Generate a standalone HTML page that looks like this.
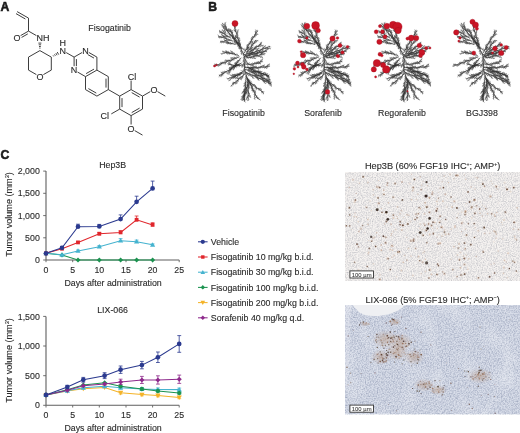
<!DOCTYPE html>
<html><head><meta charset="utf-8"><title>Fisogatinib figure</title>
<style>
html,body{margin:0;padding:0;background:#fff;width:520px;height:433px;overflow:hidden;}
svg{display:block;}
text{font-family:"Liberation Sans",Arial,Helvetica,sans-serif;stroke:#2b2b2b;stroke-width:0.12px;}
</style></head><body>
<svg width="520" height="433" viewBox="0 0 520 433">
<defs>
<clipPath id="clipA"><rect x="345" y="172" width="175" height="109"/></clipPath>
<clipPath id="clipB"><rect x="345" y="305" width="175" height="109.6"/></clipPath>
<radialGradient id="brg"><stop offset="0" stop-color="#b49077" stop-opacity="0.5"/><stop offset="1" stop-color="#b08a70" stop-opacity="0"/></radialGradient>
<filter id="soft" x="-5%" y="-5%" width="110%" height="110%"><feGaussianBlur stdDeviation="0.35"/></filter>
<filter id="motA" x="0" y="0" width="100%" height="100%" color-interpolation-filters="sRGB">
<feTurbulence type="fractalNoise" baseFrequency="0.8" numOctaves="2" seed="4"/>
<feColorMatrix type="matrix" values="0 0 0 0 0.62 0 0 0 0 0.63 0 0 0 0 0.67 1.15 0 0 0 -0.44"/>
<feGaussianBlur stdDeviation="0.4"/>
</filter>
<filter id="motB" x="0" y="0" width="100%" height="100%" color-interpolation-filters="sRGB">
<feTurbulence type="fractalNoise" baseFrequency="0.75" numOctaves="2" seed="9"/>
<feColorMatrix type="matrix" values="0 0 0 0 0.56 0 0 0 0 0.6 0 0 0 0 0.7 1.5 0 0 0 -0.55"/>
<feGaussianBlur stdDeviation="0.4"/>
</filter>
<filter id="motC" x="0" y="0" width="100%" height="100%" color-interpolation-filters="sRGB">
<feTurbulence type="fractalNoise" baseFrequency="0.05 0.03" numOctaves="2" seed="5"/>
<feColorMatrix type="matrix" values="0 0 0 0 1 0 0 0 0 1 0 0 0 0 1 0.7 0 0 0 -0.33"/>
</filter>
<g id="kt" fill="none" stroke="#222" stroke-linecap="round"><path d="M-23.50 -35.30L-22.45 -34.16L-20.98 -32.56L-19.25 -30.68L-17.42 -28.67L-15.65 -26.69L-14.10 -24.90L-12.75 -23.29L-11.46 -21.72L-10.24 -20.19L-9.07 -18.67L-7.96 -17.14L-6.90 -15.60L-5.88 -14.00L-4.89 -12.36L-3.96 -10.71L-3.10 -9.10L-2.34 -7.58L-1.70 -6.20L-1.19 -4.99L-0.79 -3.94L-0.49 -2.97L-0.27 -2.03L-0.11 -1.06L0.00 0.00L0.00 1.14L-0.12 2.31L-0.32 3.52L-0.50 4.75L-0.62 6.01L-0.60 7.30L-0.42 8.63L-0.13 9.99L0.23 11.39L0.62 12.80L1.00 14.21L1.35 15.60L1.68 16.89L2.03 18.06L2.37 19.23L2.69 20.52L2.96 22.04L3.15 23.90L3.25 26.38L3.28 29.43L3.26 32.72L3.22 35.89L3.17 38.60L3.15 40.50M-14.10 -21.80L-14.75 -22.20L-15.64 -22.76L-16.70 -23.43L-17.84 -24.14L-18.97 -24.85L-20.00 -25.50L-21.02 -26.15L-22.10 -26.84L-23.17 -27.53L-24.16 -28.17L-24.99 -28.71L-25.60 -29.10M-12.00 -18.70L-12.75 -19.01L-13.79 -19.44L-15.03 -19.95L-16.36 -20.49L-17.72 -21.02L-19.00 -21.50L-20.32 -21.95L-21.77 -22.42L-23.24 -22.88L-24.61 -23.29L-25.77 -23.64L-26.60 -23.90M-10.00 -15.60L-10.76 -15.81L-11.80 -16.12L-13.03 -16.47L-14.37 -16.85L-15.72 -17.20L-17.00 -17.50L-18.31 -17.75L-19.74 -18.00L-21.19 -18.22L-22.54 -18.41L-23.68 -18.58L-24.50 -18.70M-17.50 -29.00L-17.73 -29.57L-18.07 -30.37L-18.47 -31.31L-18.87 -32.30L-19.23 -33.22L-19.50 -34.00L-19.68 -34.65L-19.80 -35.26L-19.88 -35.81L-19.93 -36.30L-19.96 -36.70L-20.00 -37.00M-3.70 -11.40L-4.12 -12.65L-4.70 -14.38L-5.38 -16.43L-6.11 -18.65L-6.84 -20.89L-7.50 -23.00L-8.14 -25.15L-8.82 -27.50L-9.49 -29.88L-10.10 -32.09L-10.62 -33.95L-11.00 -35.30M-5.00 -13.00L-5.68 -13.98L-6.63 -15.33L-7.75 -16.94L-8.93 -18.67L-10.05 -20.40L-11.00 -22.00L-11.83 -23.60L-12.63 -25.33L-13.38 -27.06L-14.04 -28.67L-14.59 -30.02L-15.00 -31.00M-0.60 -7.30L0.04 -8.46L0.91 -10.06L1.96 -11.96L3.10 -14.01L4.27 -16.07L5.40 -18.00L6.60 -19.96L7.95 -22.08L9.33 -24.22L10.63 -26.21L11.72 -27.89L12.51 -29.10M0.36 -5.20L0.91 -5.93L1.66 -6.93L2.55 -8.11L3.51 -9.41L4.49 -10.73L5.40 -12.00L6.33 -13.33L7.35 -14.81L8.37 -16.32L9.32 -17.74L10.13 -18.94L10.71 -19.80M1.35 -4.20L2.56 -4.73L4.24 -5.46L6.22 -6.32L8.37 -7.24L10.55 -8.16L12.60 -9.00L14.70 -9.82L17.01 -10.69L19.33 -11.55L21.50 -12.34L23.34 -13.01L24.66 -13.50M1.35 -2.10L2.38 -2.30L3.81 -2.58L5.50 -2.91L7.32 -3.27L9.13 -3.64L10.80 -4.00L12.45 -4.37L14.22 -4.79L15.98 -5.22L17.61 -5.62L18.98 -5.96L19.98 -6.20M-5.80 -3.10L-7.12 -2.60L-8.94 -1.91L-11.10 -1.09L-13.44 -0.21L-15.79 0.67L-18.00 1.50L-20.25 2.33L-22.70 3.23L-25.16 4.14L-27.46 4.98L-29.40 5.69L-30.80 6.20M-6.50 -4.50L-7.44 -4.79L-8.74 -5.19L-10.28 -5.67L-11.93 -6.16L-13.54 -6.62L-15.00 -7.00L-16.39 -7.30L-17.85 -7.57L-19.28 -7.81L-20.59 -8.01L-21.70 -8.17L-22.50 -8.30M-3.70 3.10L-4.81 3.73L-6.32 4.60L-8.12 5.64L-10.09 6.76L-12.09 7.91L-14.00 9.00L-15.99 10.14L-18.20 11.39L-20.44 12.67L-22.54 13.86L-24.32 14.87L-25.60 15.60M-2.00 5.00L-2.88 5.08L-4.11 5.20L-5.56 5.34L-7.11 5.46L-8.63 5.53L-10.00 5.50L-11.31 5.35L-12.67 5.09L-14.00 4.78L-15.22 4.46L-16.25 4.19L-17.00 4.00M0.00 7.30L1.38 7.34L3.29 7.41L5.55 7.48L7.97 7.54L10.39 7.55L12.60 7.50L14.78 7.36L17.11 7.13L19.42 6.86L21.55 6.59L23.35 6.36L24.66 6.20M0.36 9.40L1.59 9.67L3.27 10.04L5.28 10.48L7.45 10.96L9.64 11.48L11.70 12.00L13.81 12.58L16.11 13.26L18.44 13.96L20.61 14.63L22.44 15.20L23.76 15.60M1.35 12.50L2.67 13.09L4.48 13.91L6.63 14.88L8.96 15.93L11.30 17.00L13.50 18.00L15.73 19.03L18.16 20.16L20.60 21.29L22.88 22.36L24.80 23.25L26.19 23.90M2.25 17.70L2.78 18.82L3.52 20.36L4.39 22.19L5.34 24.17L6.30 26.15L7.20 28.00L8.13 29.86L9.14 31.87L10.16 33.89L11.12 35.77L11.93 37.36L12.51 38.50M0.36 13.50L-0.44 14.21L-1.56 15.20L-2.88 16.38L-4.29 17.63L-5.70 18.87L-7.00 20.00L-8.28 21.10L-9.65 22.26L-11.01 23.41L-12.27 24.46L-13.33 25.35L-14.10 26.00M-0.60 10.40L-1.18 10.79L-1.98 11.33L-2.92 11.97L-3.96 12.66L-5.00 13.35L-6.00 14.00L-7.03 14.65L-8.18 15.36L-9.34 16.07L-10.42 16.74L-11.34 17.30L-12.00 17.70M3.15 23.90L2.86 24.78L2.47 25.99L2.00 27.42L1.48 28.97L0.96 30.53L0.45 32.00L-0.09 33.49L-0.68 35.12L-1.29 36.76L-1.87 38.28L-2.35 39.57L-2.70 40.50M2.25 20.00L3.20 20.78L4.52 21.89L6.08 23.19L7.73 24.56L9.35 25.87L10.80 27.00L12.16 28.01L13.57 29.00L14.93 29.94L16.18 30.78L17.23 31.48L18.00 32.00M0.00 -4.00L0.76 -4.65L1.80 -5.56L3.04 -6.62L4.40 -7.78L5.81 -8.93L7.20 -10.00L8.70 -11.07L10.40 -12.22L12.15 -13.38L13.80 -14.44L15.20 -15.35L16.20 -16.00M0.45 -3.00L1.33 -3.33L2.52 -3.78L3.94 -4.31L5.53 -4.89L7.24 -5.47L9.00 -6.00L11.01 -6.53L13.37 -7.11L15.83 -7.69L18.18 -8.22L20.18 -8.67L21.60 -9.00M0.45 4.00L1.39 4.03L2.68 4.09L4.22 4.16L5.87 4.19L7.50 4.14L9.00 4.00L10.47 3.70L12.03 3.26L13.58 2.75L15.02 2.24L16.22 1.80L17.10 1.50M2.07 7.30L3.33 7.81L5.07 8.52L7.14 9.36L9.35 10.27L11.53 11.17L13.50 12.00L15.41 12.83L17.41 13.71L19.39 14.59L21.21 15.41L22.74 16.10L23.85 16.60M3.15 10.70L4.37 11.27L6.05 12.04L8.05 12.96L10.21 13.96L12.37 15.00L14.40 16.00L16.45 17.07L18.67 18.26L20.91 19.48L22.99 20.63L24.74 21.60L26.01 22.30M1.08 18.80L0.96 20.03L0.80 21.75L0.62 23.78L0.41 25.94L0.20 28.07L0.00 30.00L-0.21 31.85L-0.44 33.79L-0.67 35.70L-0.88 37.45L-1.07 38.93L-1.20 40.00M-4.00 -2.00L-4.53 -1.35L-5.26 -0.44L-6.12 0.62L-7.07 1.78L-8.05 2.93L-9.00 4.00L-10.01 5.07L-11.15 6.22L-12.31 7.38L-13.41 8.44L-14.34 9.35L-15.00 10.00M-2.30 13.00L-3.14 13.33L-4.31 13.79L-5.69 14.33L-7.18 14.90L-8.65 15.48L-10.00 16.00L-11.32 16.51L-12.73 17.05L-14.13 17.59L-15.42 18.08L-16.51 18.50L-17.30 18.80" stroke-width="0.62"/><path d="M-21.47 -33.09L-19.42 -26.96M-18.93 -30.33L-15.76 -29.05M-16.29 -27.40L-14.69 -24.22M-13.93 -24.70L-9.23 -21.31M-11.24 -21.45L-9.70 -15.80M-9.06 -18.65L-4.27 -15.52M-7.02 -15.78L-5.61 -11.16M-5.52 -13.40L-0.31 -9.87M-3.81 -10.43L-3.49 -6.10M-1.95 -6.74L2.76 -2.55M-0.70 -3.64L-1.55 1.47M-0.11 -1.07L3.13 4.47M-0.04 1.54L-2.98 6.86M-0.46 4.44L0.12 7.69M-0.48 8.16L-1.31 14.46M0.28 11.58L4.07 15.75M1.21 15.02L0.97 18.93M1.99 17.93L4.50 20.80M2.87 21.54L2.39 26.21M3.20 24.98L4.34 28.04M3.27 28.22L1.33 33.06M3.27 31.43L5.34 37.37M3.22 35.42L1.26 39.47M-16.64 -23.39L-22.24 -23.94M-19.53 -25.20L-22.54 -30.35M-22.09 -26.84L-25.48 -27.88M-14.77 -19.85L-20.29 -19.72M-18.69 -21.39L-23.35 -25.46M-22.85 -22.75L-26.22 -22.58M-12.88 -16.43L-18.39 -16.49M-16.43 -17.37L-20.04 -19.83M-20.71 -18.15L-24.15 -17.68M-18.65 -31.77L-22.67 -36.76M-4.65 -14.25L-8.11 -18.69M-5.82 -17.76L-5.95 -22.42M-6.81 -20.79L-9.60 -24.44M-7.90 -24.34L-6.98 -30.20M-8.95 -27.96L-10.97 -30.31M-10.00 -31.72L-9.84 -37.63M-6.72 -15.46L-9.92 -18.24M-8.84 -18.55L-9.64 -24.23M-10.30 -20.83L-12.81 -22.54M-11.81 -23.58L-13.15 -29.54M-13.40 -27.12L-16.58 -30.89M0.84 -9.93L3.90 -12.85M2.12 -12.26L2.58 -15.57M4.06 -15.70L7.01 -18.72M6.25 -19.39L7.14 -22.85M8.36 -22.72L12.55 -25.90M10.22 -25.58L11.03 -29.63M2.16 -7.60L3.38 -12.70M4.41 -10.63L8.24 -12.73M6.48 -13.55L7.34 -18.26M8.37 -16.32L12.77 -19.52M4.10 -5.40L8.29 -9.87M7.30 -6.78L12.18 -6.98M9.74 -7.82L13.52 -11.66M12.87 -9.10L17.81 -9.22M16.28 -10.41L20.44 -14.37M19.89 -11.76L25.27 -11.54M4.29 -2.68L10.47 -1.66M8.25 -3.46L12.78 -6.14M11.86 -4.24L17.57 -2.72M14.46 -4.85L18.99 -8.55M-8.61 -2.04L-14.57 -2.05M-11.66 -0.88L-16.01 2.52M-15.36 0.51L-19.90 0.38M-18.05 1.52L-20.33 3.87M-21.04 2.62L-24.44 2.80M-23.52 3.54L-26.52 6.24M-26.91 4.78L-30.31 4.44M-9.37 -5.39L-14.19 -8.87M-12.75 -6.40L-18.25 -6.42M-15.58 -7.13L-19.02 -8.92M-18.32 -7.65L-23.59 -6.05M-6.30 4.59L-11.20 5.87M-9.16 6.23L-11.83 9.58M-11.92 7.81L-15.79 8.58M-14.74 9.42L-17.55 13.34M-18.55 11.59L-23.65 12.66M-21.26 13.13L-24.07 16.31M-4.99 5.29L-10.32 3.54M-9.19 5.52L-12.23 6.54M-13.38 4.93L-16.20 3.12M3.00 7.40L6.11 8.78M6.02 7.49L11.21 6.28M10.33 7.55L13.87 8.94M13.91 7.41L19.21 5.32M17.78 7.05L22.11 7.92M20.81 6.69L24.35 4.38M3.29 10.04L8.34 8.67M6.36 10.72L9.07 12.92M10.34 11.66L14.35 11.56M12.88 12.33L16.97 16.19M16.71 13.44L20.70 12.81M20.62 14.63L24.10 17.13M4.08 13.73L8.46 18.27M7.95 15.48L13.92 15.72M10.47 16.62L14.21 20.18M14.21 18.33L19.79 18.28M17.29 19.75L20.32 23.36M19.69 20.87L24.39 20.62M22.89 22.36L26.37 25.73M3.54 20.41L4.23 25.36M5.31 24.12L7.83 26.71M6.84 27.27L7.55 31.05M8.25 30.12L10.72 31.98M9.75 33.08L9.72 39.13M11.40 36.32L15.00 40.02M-1.88 15.49L-3.86 19.46M-4.12 17.48L-7.46 18.66M-7.00 20.00L-9.05 24.10M-9.38 22.04L-12.43 23.52M-3.09 12.08L-5.18 15.43M-6.30 14.19L-12.34 14.67M-8.87 15.79L-11.14 18.33M2.22 26.75L-1.37 31.95M1.04 30.30L1.39 33.90M0.18 32.76L-2.90 36.78M-0.74 35.27L-0.28 41.65M4.55 21.92L6.15 24.81M7.30 24.20L10.53 25.46M10.26 26.58L11.67 29.26M12.94 28.56L16.58 29.27M16.18 30.78L18.59 33.68M2.27 -5.96L8.27 -7.50M4.73 -8.05L6.81 -11.65M6.82 -9.71L11.45 -11.68M9.38 -11.53L11.47 -14.18M11.97 -13.26L18.30 -14.56M14.33 -14.79L16.43 -17.91M3.26 -4.06L7.72 -7.90M7.25 -5.47L12.70 -4.83M11.12 -6.56L15.29 -8.76M14.81 -7.45L18.16 -6.73M18.91 -8.39L22.93 -10.92M3.45 4.12L8.25 5.72M7.26 4.15L13.22 1.89M11.52 3.40L15.60 3.47M14.34 2.48L17.50 -0.83M4.85 8.43L10.17 8.99M7.37 9.46L11.55 13.60M11.12 11.00L16.96 11.81M14.71 12.52L17.79 15.67M18.21 14.07L22.81 14.08M21.74 15.65L25.20 20.07M5.87 11.96L10.41 11.75M9.64 13.70L12.97 18.09M12.75 15.18L19.00 15.92M15.59 16.62L19.78 21.38M19.21 18.55L24.57 19.67M21.98 20.07L25.20 23.53M0.80 21.79L-0.99 26.30M0.44 25.66L1.82 29.00M0.13 28.71L-2.76 33.09M-0.18 31.61L0.46 35.62M-0.53 34.60L-3.69 39.48M-0.90 37.58L-0.49 40.60M-5.89 0.33L-9.37 2.65M-7.91 2.77L-9.88 7.01M-10.79 5.86L-15.79 7.92M-13.57 8.60L-16.14 13.99M-5.09 14.09L-9.39 18.76M-8.62 15.47L-14.42 15.37M-11.84 16.71L-15.98 20.77" stroke-width="0.44"/><path d="M-22.98 -34.74L-22.62 -32.56M-22.26 -33.94L-20.49 -33.74M-21.53 -33.16L-21.47 -31.86M-20.59 -32.14L-19.28 -31.76M-19.65 -31.12L-19.75 -29.72M-18.83 -30.23L-16.28 -30.00M-17.81 -29.10L-17.62 -26.52M-17.11 -28.32L-15.50 -28.29M-16.35 -27.47L-16.08 -25.87M-15.20 -26.18L-13.29 -25.64M-14.18 -24.99L-14.06 -23.06M-13.49 -24.17L-12.12 -23.70M-12.46 -22.94L-12.44 -21.35M-11.49 -21.76L-9.97 -21.45M-10.43 -20.42L-10.56 -18.97M-9.50 -19.23L-7.26 -18.75M-8.51 -17.90L-8.50 -15.50M-7.86 -17.00L-5.85 -16.38M-7.21 -16.05L-7.32 -14.90M-6.34 -14.72L-4.54 -14.33M-5.40 -13.21L-5.58 -11.24M-4.62 -11.89L-3.06 -11.35M-3.77 -10.36L-4.36 -8.81M-3.03 -8.95L-1.40 -7.93M-2.32 -7.54L-3.19 -5.68M-1.79 -6.40L-0.14 -5.54M-1.38 -5.45L-1.73 -4.26M-0.97 -4.41L0.57 -3.20M-0.60 -3.34L-1.06 -1.93M-0.20 -1.62L0.81 -0.45M-0.01 -0.14L-1.32 1.32M-0.05 1.62L0.67 2.91M-0.22 2.94L-1.97 4.08M-0.40 4.07L0.12 5.20M-0.55 5.28L-1.71 6.44M-0.61 6.52L0.13 7.75M-0.53 7.85L-1.64 9.53M-0.25 9.44L1.04 10.44M0.13 11.00L-0.42 12.84M0.57 12.63L2.16 13.44M0.93 13.94L0.54 14.89M1.32 15.46L2.01 16.15M1.61 16.62L1.20 17.81M1.90 17.64L2.67 18.36M2.22 18.70L1.89 19.55M2.66 20.42L3.52 20.99M2.88 21.63L2.32 22.73M3.03 22.74L4.52 23.87M3.16 24.16L2.59 24.90M3.21 25.26L3.91 26.12M3.26 26.99L2.80 27.72M3.28 28.84L3.91 29.57M3.28 30.32L2.60 31.46M3.27 32.19L4.33 33.19M3.25 33.43L2.66 34.18M3.23 35.12L4.19 36.27M3.21 36.42L2.33 37.66M3.18 38.29L4.25 39.33M3.16 40.02L2.47 40.69M-21.17 -32.20L-21.52 -31.30M-20.80 -31.09L-19.63 -30.29M-20.41 -29.91L-20.86 -28.56M-20.15 -29.13L-19.40 -28.52M-19.83 -28.19L-20.27 -27.04M-19.46 -27.07L-18.67 -26.38M-18.34 -30.09L-17.96 -29.21M-17.08 -29.58L-16.01 -29.90M-16.32 -29.27L-15.98 -28.29M-15.80 -26.42L-15.88 -25.18M-15.31 -25.46L-14.29 -25.08M-14.79 -24.42L-15.04 -23.35M-13.21 -24.18L-12.65 -22.81M-12.51 -23.68L-11.63 -23.89M-11.42 -22.89L-11.09 -22.13M-10.52 -22.24L-9.71 -22.38M-9.61 -21.59L-9.53 -21.02M-11.05 -20.75L-11.89 -19.36M-10.83 -19.92L-9.93 -19.13M-10.47 -18.62L-11.05 -17.63M-10.13 -17.39L-9.61 -16.92M-9.82 -16.25L-9.99 -15.71M-8.21 -18.10L-7.80 -17.24M-7.54 -17.66L-6.42 -17.64M-6.88 -17.23L-6.77 -16.50M-6.06 -16.69L-5.03 -16.99M-5.30 -16.20L-4.97 -15.34M-6.73 -14.82L-7.57 -13.46M-6.33 -13.52L-5.53 -12.87M-6.03 -12.52L-6.32 -11.75M-5.67 -11.36L-5.14 -11.00M-4.83 -12.94L-4.50 -11.96M-4.12 -12.45L-2.72 -12.58M-3.43 -11.99L-3.31 -11.15M-2.43 -11.31L-1.26 -11.31M-1.25 -10.51L-0.99 -9.70M-0.42 -9.94L0.31 -9.91M-3.76 -9.70L-4.63 -8.29M-3.69 -8.86L-2.97 -8.31M-3.59 -7.52L-3.97 -6.80M-3.49 -6.15L-2.91 -5.40M-1.47 -6.32L-1.30 -5.04M-0.65 -5.59L0.33 -5.50M0.32 -4.72L0.67 -3.38M1.03 -4.09L1.70 -3.96M1.73 -3.47L1.81 -2.74M2.43 -2.84L2.96 -2.75M-0.76 -3.28L-2.13 -2.27M-0.99 -1.89L-0.61 -1.10M-1.22 -0.52L-2.03 0.11M-1.37 0.37L-0.86 1.27M-1.53 1.31L-2.44 1.93M0.25 -0.45L0.16 0.77M0.86 0.59L2.11 0.97M1.43 1.57L1.00 2.95M1.92 2.41L2.64 2.75M2.38 3.19L2.05 4.22M2.81 3.93L3.94 4.13M-0.36 2.12L-1.60 2.83M-0.86 3.02L-0.55 4.58M-1.42 4.04L-2.11 4.25M-1.85 4.82L-1.78 5.45M-2.34 5.70L-3.47 6.21M-2.82 6.56L-2.79 7.62M-0.36 4.98L-0.91 5.83M-0.14 6.24L0.71 7.19M0.01 7.09L-0.42 7.80M-0.61 9.14L-1.66 10.36M-0.78 10.41L-0.01 11.54M-0.94 11.65L-1.58 12.24M-1.10 12.82L-0.60 13.87M-1.26 14.05L-1.84 14.58M0.80 12.15L0.74 12.96M1.62 13.06L2.94 13.10M2.56 14.09L2.55 14.79M3.10 14.68L4.34 14.79M3.78 15.44L3.81 16.00M1.16 15.70L0.23 17.04M1.08 17.06L1.59 18.00M1.00 18.32L0.27 19.11M2.54 18.56L2.59 20.08M3.08 19.18L4.00 19.19M3.60 19.78L3.58 20.55M4.37 20.66L5.27 20.85M2.80 22.24L2.07 22.74M2.70 23.15L3.44 24.25M2.60 24.11L1.72 24.98M2.46 25.52L2.89 26.14M3.45 25.65L2.63 27.09M3.81 26.61L5.09 27.11M4.09 27.38L3.88 28.44M3.07 28.73L2.14 29.40M2.66 29.75L3.12 30.71M2.33 30.56L1.18 30.96M1.95 31.52L2.29 32.36M1.57 32.47L0.95 32.91M3.43 31.88L3.14 33.37M3.74 32.77L4.60 33.48M4.18 34.04L3.87 35.45M4.60 35.24L5.36 35.57M4.86 36.00L4.45 36.92M5.15 36.82L5.90 37.11M3.07 35.74L1.94 36.13M2.48 36.95L2.72 37.80M2.12 37.69L1.20 37.95M1.61 38.75L1.75 39.88M-14.94 -22.33L-15.70 -23.98M-16.01 -22.99L-18.20 -22.88M-17.35 -23.83L-17.84 -25.18M-18.57 -24.60L-19.76 -24.36M-19.90 -25.44L-20.60 -26.87M-21.35 -26.36L-22.78 -26.15M-22.45 -27.07L-22.73 -28.38M-23.70 -27.88L-24.71 -27.84M-24.96 -28.69L-25.36 -29.74M-17.29 -23.45L-18.22 -24.35M-18.30 -23.55L-18.98 -23.14M-19.25 -23.64L-19.70 -24.29M-20.35 -23.75L-21.34 -23.01M-21.26 -23.84L-21.80 -24.32M-20.03 -26.06L-20.03 -26.88M-20.66 -27.13L-21.74 -27.36M-21.24 -28.13L-21.25 -29.08M-21.94 -29.32L-23.05 -29.58M-22.79 -27.06L-23.58 -28.47M-23.98 -27.42L-25.10 -26.89M-25.01 -27.74L-25.31 -28.23M-13.27 -19.22L-13.95 -20.72M-14.31 -19.65L-16.31 -19.21M-15.81 -20.27L-16.52 -21.26M-17.17 -20.81L-18.64 -20.27M-18.30 -21.24L-18.79 -22.17M-19.51 -21.67L-21.49 -20.94M-21.00 -22.17L-21.61 -23.51M-22.16 -22.54L-24.00 -21.96M-23.72 -23.02L-24.25 -23.72M-25.11 -23.44L-26.18 -22.90M-26.29 -23.80L-27.08 -25.19M-15.38 -19.83L-16.03 -20.31M-16.34 -19.81L-16.88 -19.21M-17.44 -19.79L-18.52 -20.48M-18.34 -19.77L-18.96 -19.23M-19.70 -19.73L-20.50 -20.21M-18.98 -21.63L-19.18 -23.32M-19.58 -22.16L-20.87 -22.41M-20.37 -22.85L-20.44 -23.72M-21.17 -23.55L-22.07 -23.50M-21.81 -24.11L-22.03 -24.81M-22.48 -24.70L-23.40 -24.67M-23.29 -25.41L-23.50 -26.32M-23.24 -22.73L-24.28 -23.31M-24.59 -22.67L-25.49 -21.79M-25.61 -22.61L-26.18 -23.13M-11.11 -15.92L-12.38 -17.45M-12.45 -16.31L-14.50 -15.55M-13.83 -16.70L-14.59 -17.93M-15.33 -17.10L-16.75 -16.49M-16.71 -17.43L-17.27 -18.38M-17.87 -17.67L-19.45 -17.09M-19.18 -17.90L-20.55 -19.34M-20.22 -18.07L-21.54 -17.11M-22.02 -18.34L-23.13 -19.42M-23.54 -18.56L-24.85 -17.54M-13.57 -16.44L-14.63 -17.54M-14.94 -16.45L-15.52 -15.86M-16.04 -16.47L-17.20 -17.16M-17.01 -16.48L-17.52 -16.00M-17.94 -16.48L-18.49 -17.09M-16.81 -17.62L-17.23 -18.97M-17.71 -18.24L-18.56 -18.14M-18.57 -18.83L-18.85 -19.47M-19.55 -19.50L-20.37 -19.50M-21.39 -18.05L-22.14 -18.69M-22.51 -17.90L-23.26 -16.90M-23.78 -17.73L-24.41 -18.07M-17.77 -29.65L-17.36 -31.07M-18.24 -30.77L-20.25 -32.01M-18.69 -31.86L-18.47 -33.23M-19.14 -33.00L-20.69 -33.84M-19.51 -34.04L-19.11 -34.93M-19.75 -35.03L-20.70 -35.61M-19.94 -36.42L-19.09 -37.78M-19.14 -32.38L-18.95 -33.51M-19.99 -33.42L-20.91 -33.62M-20.79 -34.42L-20.66 -35.15M-21.52 -35.33L-22.26 -35.44M-22.16 -36.11L-22.23 -36.79M-4.05 -12.44L-3.71 -13.65M-4.46 -13.67L-5.76 -14.36M-4.87 -14.89L-4.25 -17.09M-5.34 -16.31L-6.33 -17.14M-5.77 -17.60L-5.01 -19.41M-6.11 -18.64L-7.68 -19.88M-6.53 -19.94L-6.09 -21.34M-7.09 -21.70L-8.49 -22.72M-7.49 -22.96L-6.76 -24.87M-8.03 -24.77L-9.00 -25.48M-8.49 -26.35L-8.19 -27.25M-8.98 -28.08L-10.42 -29.12M-9.35 -29.40L-8.64 -30.55M-9.66 -30.51L-10.68 -31.49M-10.09 -32.03L-9.60 -32.79M-10.50 -33.53L-11.51 -34.28M-10.81 -34.63L-10.39 -35.79M-5.23 -14.99L-5.08 -16.04M-6.04 -16.03L-7.40 -16.56M-6.64 -16.80L-6.56 -17.93M-7.15 -17.45L-8.22 -17.60M-7.98 -18.53L-7.90 -19.55M-5.84 -18.53L-5.04 -19.96M-5.86 -19.40L-6.40 -20.06M-5.90 -20.81L-5.37 -21.35M-5.94 -22.16L-6.64 -22.78M-7.40 -21.57L-7.21 -22.91M-8.00 -22.34L-8.96 -22.65M-8.61 -23.15L-8.58 -23.90M-9.08 -23.76L-9.95 -23.81M-7.75 -25.28L-7.13 -25.86M-7.60 -26.28L-8.27 -27.52M-7.43 -27.37L-6.88 -27.80M-7.29 -28.21L-7.83 -28.86M-7.10 -29.44L-6.44 -30.22M-9.20 -28.25L-9.16 -29.70M-9.75 -28.89L-11.12 -29.30M-10.37 -29.62L-10.26 -30.78M-9.98 -32.52L-9.33 -33.40M-9.95 -33.69L-10.76 -34.46M-9.92 -34.63L-9.11 -35.29M-9.89 -35.79L-10.40 -36.38M-9.87 -36.80L-9.40 -37.46M-5.44 -13.63L-5.31 -16.02M-6.15 -14.65L-7.41 -14.86M-7.16 -16.09L-6.72 -17.82M-8.00 -17.30L-10.26 -17.78M-8.69 -18.32L-8.44 -20.51M-9.60 -19.71L-11.04 -20.22M-10.31 -20.84L-10.26 -22.26M-10.86 -21.77L-12.43 -22.49M-11.73 -23.41L-11.50 -24.92M-12.28 -24.57L-14.07 -25.08M-13.02 -26.23L-12.34 -27.72M-13.67 -27.77L-14.61 -28.38M-14.26 -29.21L-13.94 -30.31M-14.66 -30.19L-15.84 -30.80M-7.03 -15.73L-7.24 -16.73M-7.90 -16.49L-8.79 -16.48M-8.79 -17.26L-8.91 -17.97M-9.84 -18.18L-10.44 -18.24M-8.93 -19.18L-8.56 -19.90M-9.10 -20.36L-9.88 -21.04M-9.27 -21.55L-8.56 -22.74M-9.44 -22.79L-10.27 -23.68M-9.55 -23.58L-9.12 -24.25M-10.92 -21.25L-11.03 -22.13M-11.67 -21.76L-12.70 -21.62M-12.65 -22.43L-12.76 -23.06M-12.02 -24.49L-11.60 -25.16M-12.31 -25.78L-13.24 -26.37M-12.58 -27.01L-12.22 -27.74M-12.77 -27.83L-13.23 -28.26M-12.99 -28.80L-12.46 -29.63M-13.83 -27.63L-13.70 -28.90M-14.44 -28.35L-15.98 -28.54M-15.03 -29.05L-14.94 -29.72M-15.63 -29.77L-16.72 -30.06M-16.53 -30.83L-16.47 -31.53M-0.27 -7.89L1.84 -8.38M0.51 -9.31L-0.15 -11.83M1.19 -10.56L3.27 -11.10M2.04 -12.10L1.68 -14.20M2.77 -13.42L4.04 -14.01M3.53 -14.78L3.46 -17.03M4.10 -15.77L5.14 -16.37M5.02 -17.35L4.88 -18.54M5.55 -18.24L7.17 -19.09M6.37 -19.58L5.98 -21.36M6.94 -20.48L8.25 -20.86M7.86 -21.94L7.41 -23.77M8.44 -22.84L10.28 -23.16M9.44 -24.39L9.46 -25.46M10.05 -25.32L11.56 -26.06M10.99 -26.76L10.72 -28.33M11.84 -28.07L12.65 -28.39M12.44 -28.99L12.24 -29.91M1.60 -10.65L2.99 -10.97M2.59 -11.60L2.61 -12.70M3.38 -12.35L4.42 -12.49M2.22 -12.94L3.02 -13.94M2.39 -14.17L1.71 -15.01M2.52 -15.12L3.16 -15.73M4.34 -15.99L5.92 -16.04M5.32 -17.00L5.39 -18.47M6.10 -17.79L6.82 -17.84M6.51 -20.41L7.52 -20.99M6.87 -21.79L6.56 -22.39M7.11 -22.74L7.89 -23.48M8.85 -23.09L10.05 -23.12M9.75 -23.77L10.27 -25.25M10.69 -24.49L11.43 -24.34M11.62 -25.20L11.77 -26.17M12.25 -25.68L13.10 -25.61M10.35 -26.25L11.19 -26.84M10.53 -27.16L10.00 -28.28M10.77 -28.36L11.40 -28.86M11.02 -29.61L10.52 -30.32M1.06 -6.14L2.76 -6.46M1.80 -7.11L1.47 -8.63M2.90 -8.59L4.26 -8.67M3.85 -9.86L3.90 -11.15M4.53 -10.78L5.89 -11.23M5.26 -11.80L5.39 -13.92M5.98 -12.83L7.50 -13.03M6.57 -13.68L6.25 -15.10M7.25 -14.67L8.49 -14.80M7.83 -15.53L7.80 -17.20M8.40 -16.37L10.02 -17.00M9.31 -17.72L9.11 -19.16M10.29 -19.17L11.62 -19.47M2.32 -8.26L3.37 -9.15M2.51 -9.07L1.91 -10.36M2.80 -10.28L3.51 -10.76M3.04 -11.30L2.60 -12.23M3.28 -12.31L4.21 -12.91M5.03 -10.97L5.80 -10.68M6.02 -11.52L6.65 -12.69M7.24 -12.19L7.89 -12.05M6.63 -14.36L7.68 -15.04M6.81 -15.38L6.26 -16.07M7.03 -16.58L7.91 -17.37M7.19 -17.42L6.68 -18.04M7.33 -18.21L7.87 -18.73M8.85 -16.67L9.87 -16.69M9.87 -17.41L9.98 -18.58M10.61 -17.95L11.57 -17.78M11.35 -18.49L11.77 -19.57M12.40 -19.25L13.22 -19.16M2.65 -4.76L4.74 -4.26M4.23 -5.45L4.87 -7.19M5.40 -5.96L6.68 -5.56M6.99 -6.65L8.11 -8.62M8.14 -7.14L9.53 -6.79M9.42 -7.68L10.01 -8.59M10.93 -8.32L12.24 -8.00M12.11 -8.80L12.84 -10.16M13.57 -9.38L14.88 -8.85M15.27 -10.03L15.66 -10.98M16.90 -10.65L18.46 -9.83M17.96 -11.04L18.58 -12.48M18.93 -11.40L20.75 -11.08M20.42 -11.95L20.96 -12.72M21.49 -12.34L23.01 -11.94M22.72 -12.79L23.71 -14.10M24.32 -13.38L25.84 -13.02M4.74 -6.08L5.71 -6.08M5.58 -6.98L5.64 -8.32M6.30 -7.75L7.39 -7.74M6.95 -8.44L7.05 -9.15M7.69 -9.24L8.51 -9.47M8.29 -6.82L9.64 -6.11M9.37 -6.87L10.27 -7.72M10.69 -6.92L11.43 -6.40M12.10 -6.97L12.84 -7.47M10.47 -8.57L12.12 -8.82M11.25 -9.35L11.37 -10.79M11.81 -9.92L12.94 -9.94M12.50 -10.63L12.46 -11.47M13.26 -11.40L14.26 -11.48M13.83 -9.13L15.09 -8.27M14.87 -9.15L15.57 -9.77M15.97 -9.18L16.71 -8.35M17.27 -9.21L17.85 -9.67M16.54 -10.66L18.21 -10.64M17.36 -11.44L17.63 -12.42M17.92 -11.98L19.37 -12.22M18.77 -12.78L18.84 -14.01M19.76 -13.73L20.72 -13.75M20.39 -11.74L21.26 -10.85M21.66 -11.69L22.43 -12.13M22.45 -11.65L23.40 -10.61M23.65 -11.61L24.62 -12.29M24.94 -11.56L25.44 -11.09M2.09 -2.25L4.02 -1.25M3.89 -2.60L5.36 -3.93M4.92 -2.80L7.03 -1.98M6.40 -3.09L7.27 -4.57M7.41 -3.29L9.08 -2.47M9.21 -3.66L9.98 -5.09M10.55 -3.95L12.22 -3.34M11.72 -4.21L12.42 -4.92M12.71 -4.44L13.65 -3.89M14.52 -4.86L15.80 -6.16M15.61 -5.13L17.15 -4.67M16.80 -5.42L17.34 -6.30M17.83 -5.67L19.10 -4.89M19.54 -6.09L19.98 -6.81M4.81 -2.59L5.59 -1.32M5.58 -2.46L6.85 -2.95M6.87 -2.25L7.59 -1.63M8.11 -2.05L9.27 -2.56M9.18 -1.87L9.81 -1.34M10.32 -1.68L11.12 -2.13M8.95 -3.88L10.08 -3.73M10.06 -4.54L10.31 -5.87M11.05 -5.12L11.72 -5.06M12.26 -5.84L12.54 -6.87M12.63 -4.04L13.37 -3.11M13.94 -3.69L15.13 -4.18M15.06 -3.39L15.64 -2.26M15.99 -3.14L16.74 -3.35M17.00 -2.87L17.58 -2.00M15.24 -5.48L16.27 -5.44M16.27 -6.33L16.37 -7.59M17.33 -7.20L18.02 -7.22M18.21 -7.91L18.27 -8.60M-6.43 -2.86L-8.51 -3.68M-7.76 -2.36L-8.67 -1.06M-9.32 -1.77L-10.97 -2.54M-10.34 -1.38L-11.21 0.66M-11.48 -0.95L-13.67 -1.79M-13.15 -0.32L-13.98 1.19M-14.58 0.22L-15.87 -0.08M-15.67 0.63L-16.32 1.99M-17.08 1.16L-18.66 0.66M-18.16 1.56L-19.53 3.26M-19.41 2.02L-21.09 1.67M-21.01 2.61L-21.97 3.91M-22.24 3.07L-23.13 2.74M-23.22 3.43L-23.85 5.14M-24.57 3.92L-25.65 3.51M-26.16 4.50L-27.09 6.03M-27.74 5.08L-29.30 4.31M-28.90 5.51L-29.52 6.27M-30.00 5.91L-30.81 5.74M-9.62 -2.04L-10.55 -3.04M-11.00 -2.04L-11.56 -1.50M-11.98 -2.04L-12.57 -2.45M-13.36 -2.04L-13.89 -1.60M-12.03 -0.60L-13.70 -0.92M-12.66 -0.10L-12.81 0.67M-13.75 0.75L-14.83 0.80M-14.74 1.52L-14.85 2.46M-15.40 2.04L-15.96 2.05M-16.19 0.49L-17.03 -0.25M-17.21 0.46L-18.04 1.05M-18.28 0.43L-19.14 -0.53M-19.63 0.39L-20.49 1.05M-18.62 2.10L-20.02 2.31M-19.51 3.02L-19.39 4.32M-20.22 3.76L-20.76 3.91M-21.65 2.65L-22.85 1.85M-22.54 2.70L-23.59 3.64M-23.60 2.75L-24.35 2.32M-24.23 4.17L-25.08 4.28M-25.02 4.89L-25.13 5.68M-25.84 5.63L-26.95 5.63M-27.82 4.69L-28.46 3.76M-28.75 4.60L-29.49 5.01M-29.78 4.50L-30.25 4.04M-7.06 -4.67L-8.00 -6.30M-8.45 -5.10L-10.12 -4.39M-10.07 -5.60L-10.69 -7.00M-11.34 -5.99L-12.93 -5.59M-12.55 -6.34L-13.92 -7.95M-13.97 -6.73L-15.12 -6.31M-15.46 -7.10L-16.49 -8.80M-17.08 -7.43L-17.99 -6.79M-18.19 -7.63L-19.13 -8.85M-19.36 -7.82L-20.13 -7.42M-20.96 -8.06L-22.01 -9.26M-10.17 -5.97L-10.37 -6.74M-11.28 -6.77L-12.71 -6.68M-12.05 -7.33L-12.50 -8.53M-12.87 -7.92L-13.72 -7.96M-13.81 -8.60L-14.16 -9.38M-13.71 -6.40L-14.43 -7.19M-14.94 -6.41L-16.00 -5.60M-15.75 -6.41L-16.69 -7.43M-16.85 -6.41L-17.58 -5.80M-17.98 -6.42L-18.93 -6.98M-16.43 -7.57L-16.87 -8.29M-17.52 -8.14L-18.18 -8.07M-18.56 -8.68L-18.87 -9.51M-18.67 -7.54L-19.91 -7.89M-19.72 -7.22L-20.24 -6.54M-20.71 -6.92L-21.83 -7.24M-21.99 -6.54L-22.65 -5.77M-23.20 -6.17L-24.20 -6.47M-4.45 3.53L-6.37 2.94M-5.63 4.20L-6.08 6.48M-6.76 4.86L-8.41 4.71M-7.97 5.55L-8.38 7.76M-9.54 6.45L-11.69 5.81M-10.46 6.98L-11.26 9.18M-12.05 7.89L-13.64 7.74M-13.41 8.66L-14.06 10.21M-14.34 9.19L-15.93 8.94M-15.24 9.71L-16.22 11.59M-16.71 10.54L-18.29 10.00M-18.20 11.39L-18.62 13.23M-19.11 11.91L-20.27 11.64M-20.51 12.70L-21.11 14.00M-22.09 13.60L-23.14 13.36M-23.36 14.33L-23.99 15.91M-24.46 14.95L-25.83 14.80M-25.44 15.51L-25.95 17.03M-7.32 4.86L-8.44 4.35M-8.63 5.20L-9.14 6.21M-9.55 5.44L-10.54 4.86M-10.47 5.68L-11.07 6.49M-9.79 7.03L-10.94 7.34M-10.61 8.05L-10.74 8.96M-11.17 8.75L-12.40 8.98M-11.81 9.56L-11.71 10.15M-12.91 8.01L-13.65 7.69M-13.68 8.16L-14.40 9.09M-14.66 8.36L-15.48 7.85M-15.37 10.31L-16.94 10.61M-15.98 11.16L-15.87 11.95M-16.51 11.89L-17.32 12.07M-17.28 12.97L-17.35 14.04M-19.35 11.76L-20.34 11.14M-20.17 11.93L-20.94 12.86M-21.00 12.11L-22.32 11.46M-21.85 12.29L-22.28 12.99M-23.01 12.53L-24.03 12.15M-21.75 13.69L-23.11 13.84M-22.26 14.27L-22.17 15.81M-22.94 15.03L-23.95 15.26M-23.80 16.01L-23.84 16.78M-2.77 5.07L-4.28 3.59M-3.99 5.19L-5.87 6.91M-5.77 5.36L-6.60 4.54M-7.00 5.45L-7.91 6.62M-8.48 5.52L-9.98 4.52M-9.88 5.50L-11.17 6.82M-11.26 5.35L-11.95 4.64M-12.83 5.05L-13.65 5.45M-13.88 4.81L-14.74 3.87M-15.29 4.45L-16.79 5.24M-16.40 4.15L-17.17 3.29M-5.37 5.16L-6.03 4.20M-6.15 4.91L-7.02 5.19M-7.29 4.53L-7.86 3.74M-8.61 4.10L-9.82 4.59M-9.73 3.73L-10.28 2.83M-9.91 5.76L-11.14 5.47M-11.03 6.14L-11.55 7.16M-11.77 6.39L-12.76 6.19M-13.67 4.74L-14.11 3.87M-14.75 4.05L-16.10 4.26M-15.89 3.31L-16.08 2.71M0.58 7.32L2.06 8.65M1.62 7.35L3.87 6.08M3.06 7.40L4.41 8.59M4.77 7.46L6.35 6.08M6.29 7.50L7.49 8.31M7.55 7.53L9.22 6.59M9.31 7.54L10.06 8.42M10.49 7.55L11.26 6.81M11.70 7.52L13.25 8.67M12.75 7.49L13.80 6.76M13.95 7.41L15.39 8.22M15.12 7.32L16.67 6.21M16.52 7.19L17.53 7.83M18.30 6.99L18.83 6.20M19.89 6.80L21.05 7.65M21.25 6.63L22.32 5.56M22.28 6.50L22.96 7.07M23.43 6.35L24.00 5.80M3.68 7.70L4.21 8.69M4.42 8.03L5.75 7.83M5.34 8.43L5.71 9.05M6.60 7.36L7.98 7.86M7.41 7.17L8.39 6.06M8.24 6.97L9.48 7.57M9.51 6.68L10.11 6.05M10.72 6.39L11.76 6.86M10.97 7.80L11.80 8.95M11.84 8.14L12.89 7.62M12.79 8.51L13.36 9.38M13.63 8.84L14.17 8.58M14.49 7.18L15.73 7.67M15.40 6.82L15.82 6.12M16.22 6.50L17.08 6.91M17.34 6.05L17.95 5.22M18.28 5.68L19.00 5.92M19.04 5.38L19.39 4.83M18.79 7.25L19.64 8.55M20.10 7.52L20.92 7.20M20.88 7.67L21.49 8.54M21.86 7.87L22.68 7.45M21.49 6.24L22.37 6.25M22.64 5.49L22.90 4.30M23.31 5.06L24.02 5.03M24.06 4.57L24.34 3.85M1.42 9.63L3.12 11.40M2.89 9.95L4.22 9.12M4.26 10.25L5.18 11.63M5.25 10.47L7.07 9.23M6.48 10.75L8.12 12.30M7.99 11.09L9.33 10.66M9.07 11.34L9.76 12.49M10.83 11.78L11.81 11.19M12.39 12.19L13.51 13.70M14.06 12.66L15.07 12.31M15.83 13.18L16.94 14.76M17.38 13.64L18.93 12.82M18.87 14.10L19.38 14.86M20.42 14.57L21.65 14.09M22.16 15.11L23.13 16.25M23.17 15.42L24.50 14.74M4.01 9.84L4.81 10.13M4.98 9.58L5.52 8.86M5.92 9.32L7.08 9.69M7.09 9.00L7.58 8.43M8.17 8.71L9.15 9.15M6.95 11.20L7.32 12.65M7.83 11.91L8.61 11.83M8.77 12.67L8.90 13.50M10.95 11.64L11.66 12.10M11.91 11.62L12.96 10.87M12.97 11.59L13.70 12.03M14.05 11.57L14.54 11.17M13.16 12.60L13.23 14.35M13.99 13.38L15.14 13.61M14.76 14.11L15.01 15.20M15.32 14.64L16.44 14.54M16.18 15.45L16.15 16.45M16.87 16.09L17.45 16.18M17.18 13.37L18.50 14.25M18.54 13.15L19.51 12.27M19.84 12.95L20.49 13.41M21.23 15.07L21.68 16.54M21.98 15.61L23.16 15.71M22.95 16.31L23.10 17.42M24.06 17.10L24.84 16.92M2.02 12.80L2.58 14.05M3.49 13.47L5.32 13.18M5.19 14.23L5.88 15.26M6.46 14.81L8.57 14.45M7.39 15.22L8.13 17.38M8.94 15.92L10.37 15.56M10.39 16.58L11.07 18.03M11.58 17.12L13.39 16.66M13.16 17.84L13.52 19.00M14.31 18.37L15.92 17.97M15.51 18.93L16.07 19.84M16.69 19.47L18.65 18.97M18.32 20.23L18.92 22.10M20.00 21.01L21.64 20.50M20.97 21.46L21.51 22.84M22.12 22.00L23.82 21.50M23.42 22.61L23.83 23.62M24.61 23.16L25.36 22.85M25.68 23.66L26.11 24.75M4.51 14.17L4.70 15.38M5.16 14.85L6.74 15.17M5.79 15.50L5.77 16.39M6.71 16.45L7.48 16.49M7.55 17.32L7.55 18.05M8.29 18.09L9.23 18.18M8.80 15.51L9.41 16.20M9.90 15.56L11.04 14.67M11.29 15.61L12.27 16.59M12.40 15.66L13.25 15.02M13.53 15.71L13.93 16.21M10.93 17.06L11.15 17.87M11.82 17.91L12.92 17.81M12.44 18.50L12.76 19.82M13.04 19.07L13.79 18.99M13.65 19.65L13.68 20.43M14.55 18.32L15.41 18.92M15.66 18.31L16.46 17.62M16.75 18.31L17.43 19.00M17.76 18.30L18.61 17.65M18.55 18.29L19.05 18.84M19.55 18.28L19.93 17.91M17.54 20.05L17.62 21.00M18.43 21.11L19.70 21.16M19.28 22.12L19.25 22.92M20.20 23.21L20.87 23.27M20.39 20.83L21.77 21.56M21.21 20.79L22.11 19.88M22.37 20.73L23.36 21.68M23.60 20.66L24.13 20.19M23.30 22.75L23.61 24.10M23.95 23.39L25.31 23.33M24.66 24.08L24.82 25.47M25.36 24.76L26.29 24.88M26.02 25.40L26.23 26.46M2.76 18.76L2.53 20.53M3.22 19.72L4.88 20.16M3.87 21.09L3.49 22.41M4.57 22.56L6.82 23.21M5.04 23.55L4.80 25.20M5.70 24.91L7.46 26.02M6.44 26.44L6.13 28.44M6.94 27.47L8.77 28.63M7.52 28.64L7.15 30.59M8.07 29.74L9.78 30.23M8.65 30.91L8.15 32.51M9.46 32.50L10.82 32.93M10.27 34.10L9.66 35.86M10.79 35.12L12.28 35.95M11.52 36.55L11.29 37.70M12.28 38.05L13.53 38.37M3.66 21.24L3.10 21.88M3.78 22.12L4.80 22.80M3.92 23.09L3.42 23.97M4.11 24.48L4.93 25.12M6.02 24.85L6.10 26.25M6.85 25.70L7.48 25.83M7.40 26.28L7.51 27.42M6.91 27.64L6.59 28.43M7.06 28.44L8.09 29.11M7.29 29.66L7.02 30.44M7.51 30.84L7.99 31.38M8.82 30.54L9.09 31.99M9.52 31.08L10.79 30.85M10.18 31.57L10.38 32.66M9.75 33.43L8.89 34.59M9.74 34.41L10.61 35.51M9.74 35.73L9.35 36.32M9.73 36.64L10.56 37.61M9.73 37.64L9.23 38.29M9.72 38.86L10.17 39.28M12.07 37.00L12.13 37.81M12.90 37.86L14.05 37.92M13.76 38.75L13.81 39.63M14.55 39.55L15.24 39.68M-0.58 14.33L-2.01 14.14M-1.75 15.37L-2.20 17.87M-3.12 16.59L-4.42 16.56M-4.23 17.57L-4.75 19.60M-5.16 18.39L-7.14 18.37M-6.52 19.58L-6.57 21.61M-7.80 20.68L-9.17 20.69M-9.04 21.74L-9.39 23.57M-9.96 22.52L-11.78 22.26M-10.99 23.39L-11.44 24.99M-11.79 24.06L-12.64 24.01M-13.10 25.16L-13.14 26.57M-2.35 16.42L-3.62 16.75M-2.75 17.24L-2.62 18.14M-3.23 18.19L-3.89 18.55M-3.79 19.33L-3.60 19.99M-5.06 17.81L-5.92 17.35M-6.25 18.23L-6.59 18.99M-7.18 18.56L-8.20 18.19M-7.35 20.69L-8.28 20.96M-7.95 21.90L-7.71 23.19M-8.55 23.10L-9.57 23.69M-10.36 22.51L-11.86 22.40M-11.14 22.89L-11.38 23.57M-11.93 23.27L-12.52 23.09M-1.56 11.05L-4.10 10.44M-2.43 11.63L-3.25 13.75M-3.77 12.53L-5.54 12.63M-4.78 13.21L-5.15 14.35M-5.65 13.77L-7.00 13.36M-7.15 14.72L-7.81 16.09M-8.11 15.32L-9.22 15.19M-9.49 16.17L-10.18 17.62M-10.72 16.92L-11.87 16.90M-11.96 17.67L-12.15 18.72M-3.33 12.47L-4.13 12.81M-3.76 13.15L-3.60 14.22M-4.36 14.12L-4.96 14.34M-5.01 15.16L-4.84 16.01M-7.18 14.26L-8.08 13.66M-8.22 14.34L-8.85 15.20M-9.24 14.42L-9.90 13.98M-10.67 14.53L-11.51 15.11M-12.04 14.64L-12.81 14.19M-9.52 16.52L-11.05 16.59M-10.06 17.12L-10.02 18.04M-10.85 18.01L-11.60 18.11M2.78 25.03L1.00 25.85M2.30 26.49L3.09 27.77M1.81 27.97L0.35 28.71M1.30 29.52L1.88 31.18M0.80 30.99L-0.48 31.65M0.28 32.46L0.74 33.64M-0.24 33.92L-1.87 35.04M-0.74 35.26L-0.14 36.60M-1.23 36.60L-2.07 37.18M-1.87 38.30L-1.42 39.55M-2.39 39.68L-3.31 40.08M1.65 27.56L0.07 27.91M1.10 28.37L1.16 29.85M0.50 29.24L-0.68 29.60M-0.08 30.08L-0.03 31.18M-0.71 30.99L-1.66 31.33M-1.26 31.78L-1.24 32.56M1.11 31.03L0.74 31.84M1.21 32.11L2.09 32.88M1.32 33.22L0.85 33.78M-0.17 33.21L-1.79 33.55M-0.74 33.95L-0.78 35.07M-1.41 34.84L-2.13 35.00M-1.93 35.52L-1.77 36.32M-2.71 36.54L-3.67 36.61M-0.69 35.93L-1.34 36.76M-0.63 36.86L0.05 37.40M-0.54 38.03L-1.53 39.00M-0.46 39.18L-0.01 39.82M-0.36 40.52L-0.76 41.28M-0.29 41.54L0.43 42.33M2.67 20.35L3.08 22.92M3.92 21.39L6.52 21.44M4.81 22.14L5.37 23.76M5.68 22.86L6.84 22.76M6.62 23.64L7.14 25.38M8.03 24.79L9.51 24.87M9.08 25.65L9.31 26.76M10.46 26.73L11.46 26.67M11.61 27.60L11.75 28.79M12.75 28.43L13.86 28.21M13.82 29.18L14.03 30.61M15.20 30.12L16.15 29.90M16.34 30.88L16.93 32.14M17.41 31.60L19.07 31.61M4.86 22.47L4.60 23.48M5.36 23.37L6.53 23.65M5.83 24.22L5.74 25.04M7.76 24.38L8.48 25.87M8.88 24.81L9.61 24.51M10.17 25.32L10.61 26.02M10.44 26.92L9.87 28.37M10.81 27.62L11.76 28.12M11.23 28.42L11.08 29.71M13.42 28.65L14.55 29.77M14.25 28.81L15.61 28.28M15.54 29.06L15.92 29.54M16.75 31.46L16.61 32.92M17.46 32.32L18.67 32.69M18.26 33.27L18.25 34.12M0.37 -4.32L2.82 -4.58M1.60 -5.38L1.92 -7.16M2.94 -6.54L4.27 -6.36M3.82 -7.29L4.22 -9.39M5.19 -8.42L7.16 -8.19M6.47 -9.44L6.85 -10.75M7.67 -10.33L9.80 -10.38M8.97 -11.25L9.72 -13.19M10.05 -11.98L11.30 -12.00M11.37 -12.86L11.61 -13.94M12.32 -13.49L13.53 -13.47M13.47 -14.23L13.99 -15.29M14.80 -15.09L16.21 -15.06M16.03 -15.89L16.55 -16.97M2.74 -6.08L3.77 -5.68M3.86 -6.37L4.33 -7.17M4.90 -6.64L6.03 -5.96M6.23 -6.98L6.70 -7.67M7.35 -7.26L7.88 -7.09M8.22 -7.49L8.68 -7.99M5.04 -8.58L6.42 -9.30M5.69 -9.71L5.43 -10.72M6.32 -10.80L6.94 -11.12M7.42 -9.96L8.52 -9.54M8.63 -10.48L9.39 -11.55M9.79 -10.97L10.86 -10.70M10.55 -11.30L11.15 -12.09M9.70 -11.94L10.68 -12.27M10.40 -12.82L10.42 -13.69M11.11 -13.72L11.79 -13.98M12.98 -13.46L14.05 -12.77M13.89 -13.65L14.49 -14.22M14.68 -13.81L15.72 -13.10M15.57 -14.00L15.96 -14.59M16.43 -14.17L17.50 -13.42M17.46 -14.38L17.82 -14.88M14.62 -15.22L15.87 -15.45M15.35 -16.31L15.19 -17.02M15.91 -17.13L16.58 -17.43M1.15 -3.26L3.44 -2.79M2.58 -3.80L3.54 -5.14M4.29 -4.44L5.38 -3.91M5.89 -5.01L7.01 -6.42M6.99 -5.38L8.85 -4.42M8.13 -5.73L8.93 -7.49M9.70 -6.18L10.69 -5.89M11.42 -6.63L12.56 -7.76M12.68 -6.94L14.25 -6.45M13.72 -7.19L14.21 -8.06M15.02 -7.50L16.47 -6.82M16.83 -7.92L17.81 -9.28M18.24 -8.24L19.35 -7.52M19.45 -8.51L20.05 -9.42M20.49 -8.74L21.83 -8.08M3.97 -4.67L5.02 -4.54M5.03 -5.58L5.25 -7.05M5.67 -6.13L6.92 -5.94M6.38 -6.74L6.41 -7.51M7.06 -7.33L7.77 -7.35M7.88 -5.39L8.82 -4.17M9.09 -5.25L10.15 -6.21M10.12 -5.13L11.04 -4.41M11.43 -4.98L12.29 -5.47M11.43 -6.72L13.01 -6.60M12.35 -7.21L12.74 -8.28M13.23 -7.67L14.17 -7.57M14.40 -8.29L14.67 -9.02M15.14 -8.68L16.07 -8.55M15.65 -7.27L16.73 -6.26M16.52 -7.08L17.82 -7.64M17.50 -6.87L18.30 -6.02M19.81 -8.96L21.44 -8.73M20.57 -9.43L20.73 -10.25M21.52 -10.03L22.27 -10.06M22.70 -10.77L23.02 -11.74M0.99 4.02L2.82 5.71M2.45 4.08L4.50 2.66M4.24 4.16L5.13 5.03M5.80 4.18L7.64 2.75M7.13 4.15L8.50 5.38M8.46 4.05L9.74 2.74M10.24 3.75L11.45 4.40M12.04 3.26L13.21 1.89M13.57 2.76L14.78 3.27M15.14 2.20L15.71 0.80M16.71 1.63L17.75 1.85M4.18 4.37L4.93 5.24M5.38 4.77L6.23 4.38M6.59 5.17L7.18 5.99M7.58 5.50L8.41 5.00M8.08 3.84L9.05 4.25M8.90 3.53L9.59 2.23M10.11 3.07L10.87 3.29M11.15 2.68L11.42 1.99M12.33 2.23L13.07 2.40M13.08 1.95L13.49 1.33M12.57 3.42L13.42 4.01M13.63 3.44L14.38 2.99M14.66 3.45L15.63 4.22M15.01 1.78L16.47 1.69M15.69 1.07L15.93 -0.22M16.43 0.29L17.53 0.19M17.31 -0.63L17.41 -1.36M2.74 7.57L3.43 9.04M4.31 8.21L6.65 7.85M5.70 8.78L6.96 10.90M6.86 9.25L8.07 8.97M8.24 9.81L9.01 11.66M9.51 10.33L10.64 9.84M10.69 10.82L11.64 12.88M12.14 11.43L13.97 10.73M13.39 11.95L13.98 13.72M14.60 12.47L16.42 12.00M15.81 13.00L16.83 14.61M17.16 13.60L18.71 13.13M18.80 14.33L19.47 15.35M19.78 14.77L21.09 14.44M21.38 15.49L21.90 16.75M22.63 16.05L23.62 15.74M5.75 8.53L6.87 9.68M7.11 8.67L8.17 7.81M8.30 8.79L8.73 9.37M9.53 8.92L10.26 8.35M7.75 9.84L7.95 10.84M8.34 10.42L9.97 10.46M9.27 11.34L9.44 12.57M9.85 11.91L10.73 11.88M10.40 12.46L10.43 13.15M11.07 13.12L11.88 13.32M11.53 11.06L12.57 12.01M12.51 11.19L13.62 10.59M13.42 11.32L13.94 12.03M14.73 11.50L15.54 10.87M15.51 11.61L15.87 12.10M16.61 11.76L17.09 11.48M15.22 13.04L15.26 14.03M16.16 14.00L17.48 13.90M17.14 15.00L17.31 16.23M17.71 15.59L18.30 15.65M18.81 14.07L19.78 14.72M19.76 14.07L20.89 13.32M20.87 14.08L21.49 14.57M22.11 14.08L22.71 13.68M22.39 16.48L22.14 17.89M23.16 17.46L23.98 17.77M23.64 18.08L23.45 19.27M24.37 19.01L25.17 19.25M24.92 19.70L24.82 20.84M3.71 10.96L4.91 13.21M5.26 11.67L6.58 11.34M6.27 12.14L7.48 14.06M7.56 12.73L9.74 11.71M9.11 13.45L10.06 15.45M10.13 13.93L11.96 13.70M11.45 14.56L12.15 15.76M12.38 15.00L14.18 14.28M14.03 15.82L14.40 17.31M15.50 16.57L17.40 16.23M17.04 17.38L17.52 18.23M18.10 17.95L19.41 17.64M19.00 18.44L19.45 20.13M20.25 19.12L22.05 19.05M21.54 19.83L22.13 20.86M22.91 20.59L24.13 20.17M24.28 21.35L24.74 22.26M25.86 22.22L26.70 22.09M6.64 11.92L7.63 12.93M8.02 11.86L8.78 11.02M9.26 11.80L9.76 12.30M10.06 14.25L9.81 15.59M10.57 14.93L11.62 15.17M11.31 15.91L11.10 17.26M11.78 16.53L12.92 16.76M12.34 17.26L12.20 18.25M12.90 18.00L13.53 18.05M13.81 15.31L14.31 15.96M14.94 15.44L15.82 14.83M15.73 15.53L16.46 16.29M17.12 15.70L18.08 14.93M17.95 15.79L18.65 16.37M16.00 17.08L15.90 17.95M16.52 17.68L17.36 17.76M17.27 18.53L17.25 19.89M18.02 19.38L19.16 19.47M18.80 20.26L18.84 21.30M19.55 21.11L20.17 21.27M20.09 18.73L21.05 20.12M21.24 18.97L22.31 18.58M22.43 19.22L23.02 19.78M23.75 19.50L24.23 19.12M22.50 20.64L22.61 21.59M23.06 21.24L24.32 21.60M23.93 22.17L24.07 23.08M24.90 23.21L25.79 23.19M0.97 19.99L0.21 21.00M0.87 21.05L2.23 22.72M0.76 22.18L-1.07 23.54M0.66 23.24L1.60 24.48M0.55 24.47L-0.78 26.17M0.38 26.22L1.04 27.64M0.27 27.37L-1.13 29.10M0.11 28.94L1.08 30.41M-0.07 30.60L-1.12 31.45M-0.26 32.31L0.35 33.71M-0.41 33.61L-1.36 34.48M-0.62 35.32L0.02 36.84M-0.77 36.54L-1.41 37.20M-0.91 37.68L-0.27 39.16M-1.08 39.06L-1.66 39.66M0.50 22.56L-0.96 23.32M0.11 23.53L0.69 24.67M-0.41 24.83L-1.02 25.29M-0.76 25.73L-0.51 26.22M0.69 26.28L0.18 27.58M1.17 27.44L1.96 27.77M1.53 28.31L1.38 29.34M-0.30 29.37L-1.60 29.68M-0.98 30.39L-0.94 31.15M-1.42 31.07L-2.26 31.49M-1.90 31.79L-1.92 32.74M-2.68 32.97L-3.34 33.12M-0.08 32.25L-0.76 33.23M0.12 33.49L1.05 34.56M0.27 34.47L-0.11 34.96M-0.99 35.31L-1.74 35.60M-1.48 36.06L-1.25 36.91M-2.13 37.07L-3.28 37.39M-2.62 37.82L-2.62 38.51M-3.39 39.01L-4.28 39.33M-0.77 38.56L-1.42 39.97M-0.63 39.56L-0.06 40.00M-4.51 -1.37L-5.88 -1.12M-5.28 -0.42L-5.09 1.17M-6.13 0.63L-7.58 0.76M-6.88 1.54L-7.03 3.16M-7.74 2.56L-9.40 2.76M-8.91 3.90L-9.24 5.68M-10.10 5.16L-11.09 5.35M-11.08 6.16L-11.39 7.55M-12.24 7.31L-13.22 7.53M-13.27 8.31L-13.49 9.34M-14.27 9.28L-15.10 9.46M-6.20 0.54L-7.46 0.40M-6.96 1.04L-7.35 2.59M-8.11 1.81L-8.78 1.77M-8.99 2.40L-9.36 3.18M-8.20 3.40L-9.66 3.82M-8.56 4.17L-8.11 5.35M-8.92 4.93L-10.03 5.56M-9.26 5.67L-8.95 6.56M-9.65 6.52L-10.50 6.92M-11.12 6.00L-12.58 5.45M-12.24 6.46L-12.84 7.33M-13.19 6.85L-14.03 6.45M-13.92 7.15L-14.31 8.19M-15.03 7.61L-15.56 7.40M-13.81 9.10L-15.35 9.51M-14.22 9.97L-14.05 10.89M-14.57 10.71L-15.28 11.18M-15.01 11.62L-14.84 12.30M-15.45 12.54L-16.51 12.87M-15.97 13.63L-15.80 14.70M-3.00 13.27L-4.48 12.60M-4.73 13.95L-5.22 15.07M-5.82 14.38L-7.82 13.77M-7.23 14.92L-7.78 16.21M-8.85 15.56L-10.83 15.14M-10.29 16.11L-11.09 17.53M-11.55 16.60L-13.08 16.21M-12.72 17.05L-13.68 18.66M-14.48 17.72L-15.63 17.48M-16.04 18.32L-16.74 19.29M-17.06 18.71L-18.38 18.08M-5.46 14.49L-6.66 14.46M-6.00 15.08L-5.92 15.94M-6.53 15.65L-7.49 15.85M-7.49 16.69L-7.40 17.66M-8.24 17.51L-9.40 17.52M-9.06 18.40L-9.08 19.00M-9.64 15.45L-10.26 14.71M-10.46 15.43L-11.30 16.33M-11.35 15.42L-11.98 14.80M-12.28 15.40L-13.09 16.01M-13.50 15.38L-14.37 14.83M-12.08 16.94L-13.54 17.07M-12.96 17.81L-13.00 18.72M-13.97 18.79L-14.81 18.77M-14.72 19.53L-14.67 20.28M-15.46 20.26L-16.58 20.16" stroke-width="0.34" stroke="#333"/></g>
</defs>
<rect width="520" height="433" fill="#fff"/>

<text x="0.6" y="10.8" font-size="12.2" font-weight="bold" fill="#1a1a1a" style="stroke:#1a1a1a;stroke-width:0.55px">A</text>
<text x="208.3" y="10.6" font-size="12.2" font-weight="bold" fill="#1a1a1a" style="stroke:#1a1a1a;stroke-width:0.55px">B</text>
<text x="0.4" y="158.9" font-size="12.2" font-weight="bold" fill="#1a1a1a" style="stroke:#1a1a1a;stroke-width:0.55px">C</text>
<text x="109.6" y="31.1" font-size="8.8" text-anchor="middle" fill="#2b2b2b">Fisogatinib</text>
<path d="M17.1 11.6L28.5 18.1M16.0 13.6L25.4 19.0M28.5 18.1L28.5 31.1M28.5 31.1L20.6 35.6M27.8 33.9L21.6 37.4M28.5 31.1L36.4 35.6M39.9 50.6L51.3 57.1M51.3 57.1L51.3 70.1M51.3 70.1L43.4 74.6M36.4 74.6L28.5 70.1M28.5 70.1L28.5 57.1M28.5 57.1L39.9 50.6M66.2 52.6L74.1 57.1M74.1 57.1L82.1 52.5M88.9 52.5L96.9 57.1M87.7 54.5L94.0 58.1M96.9 57.1L96.9 70.1M96.9 70.1L85.5 76.6M94.0 69.1L86.1 73.6M85.5 76.6L77.5 72.0M74.1 66.2L74.1 57.1M76.4 66.2L76.4 59.1M96.9 70.1L108.3 76.6M108.3 76.6L108.3 89.6M106.0 78.6L106.0 87.6M108.3 89.6L96.9 96.1M96.9 96.1L85.5 89.6M96.3 93.1L88.4 88.6M85.5 89.6L85.5 76.6M108.3 89.6L119.7 96.1M119.7 96.1L131.1 89.6M131.1 89.6L142.5 96.1M131.7 92.6L139.6 97.1M142.5 96.1L142.5 109.1M142.5 109.1L131.1 115.6M139.6 108.1L131.7 112.6M131.1 115.6L119.7 109.1M119.7 109.1L119.7 96.1M122.0 107.1L122.0 98.1M131.1 89.6L131.1 80.6M142.5 96.1L150.3 91.6M157.5 91.6L165.3 96.1M119.7 109.1L111.3 113.9M131.1 115.6L131.1 124.5M134.7 130.6L142.5 135.1" stroke="#333" stroke-width="0.95" fill="none"/>
<path d="M39.3 48.1L40.5 48.1M39.0 46.5L40.8 46.5M38.7 44.8L41.1 44.8M38.4 43.1L41.4 43.1" stroke="#333" stroke-width="0.9" fill="none"/>
<path d="M53.1 55.4L53.7 56.4M54.5 54.3L55.4 55.8M55.9 53.1L57.0 55.2M57.2 52.0L58.7 54.6" stroke="#333" stroke-width="0.9" fill="none"/>
<text x="17.1" y="40.8" font-size="9.0" text-anchor="middle" fill="#2a2a2a">O</text>
<text x="39.9" y="79.8" font-size="9.0" text-anchor="middle" fill="#2a2a2a">O</text>
<text x="85.5" y="53.8" font-size="9.0" text-anchor="middle" fill="#2a2a2a">N</text>
<text x="74.1" y="73.3" font-size="9.0" text-anchor="middle" fill="#2a2a2a">N</text>
<text x="153.9" y="92.8" font-size="9.0" text-anchor="middle" fill="#2a2a2a">O</text>
<text x="131.1" y="131.8" font-size="9.0" text-anchor="middle" fill="#2a2a2a">O</text>
<text x="36.6" y="40.8" font-size="9.0" fill="#2a2a2a">NH</text>
<text x="62.7" y="53.8" font-size="9.0" text-anchor="middle" fill="#2a2a2a">N</text>
<text x="62.7" y="45.6" font-size="9.0" text-anchor="middle" fill="#2a2a2a">H</text>
<text x="127.8" y="79.8" font-size="9.0" fill="#2a2a2a">Cl</text>
<text x="109.1" y="119.4" font-size="9.0" text-anchor="end" fill="#2a2a2a">Cl</text>
<use href="#kt" transform="translate(245.0 60)"/>
<use href="#kt" transform="translate(324.6 60)"/>
<use href="#kt" transform="translate(404.3 60)"/>
<use href="#kt" transform="translate(483.8 60)"/>
<g fill="#c91526" stroke="#a30d1d" stroke-width="0.35"><circle cx="235.0" cy="23.5" r="3.04"/>
<circle cx="214.5" cy="66.0" r="1.05"/>
<circle cx="216.5" cy="65.0" r="0.84"/>
<circle cx="306.9" cy="26.1" r="2.89"/>
<circle cx="315.6" cy="25.5" r="3.94"/>
<circle cx="318.1" cy="30.5" r="2.36"/>
<circle cx="299.4" cy="41.1" r="1.89"/>
<circle cx="306.9" cy="38.0" r="1.26"/>
<circle cx="332.5" cy="38.6" r="2.62"/>
<circle cx="337.5" cy="38.0" r="1.37"/>
<circle cx="340.0" cy="45.5" r="1.99"/>
<circle cx="347.5" cy="46.8" r="1.37"/>
<circle cx="342.5" cy="52.4" r="1.68"/>
<circle cx="337.5" cy="55.5" r="1.05"/>
<circle cx="303.1" cy="55.2" r="2.62"/>
<circle cx="301.2" cy="51.8" r="1.05"/>
<circle cx="297.5" cy="63.1" r="1.99"/>
<circle cx="302.5" cy="64.4" r="1.99"/>
<circle cx="303.8" cy="66.9" r="2.36"/>
<circle cx="294.4" cy="68.8" r="1.37"/>
<circle cx="306.9" cy="69.4" r="1.37"/>
<circle cx="298.0" cy="67.0" r="1.05"/>
<circle cx="293.8" cy="73.8" r="0.84"/>
<circle cx="338.0" cy="56.2" r="1.58"/>
<circle cx="327.5" cy="91.9" r="2.36"/>
<circle cx="386.9" cy="26.1" r="2.89"/>
<circle cx="393.1" cy="24.9" r="3.68"/>
<circle cx="397.5" cy="26.8" r="4.62"/>
<circle cx="398.1" cy="30.5" r="3.15"/>
<circle cx="380.0" cy="26.1" r="1.58"/>
<circle cx="376.2" cy="31.8" r="1.99"/>
<circle cx="382.5" cy="31.8" r="1.99"/>
<circle cx="379.4" cy="41.8" r="2.62"/>
<circle cx="385.0" cy="36.8" r="1.99"/>
<circle cx="411.2" cy="38.0" r="2.89"/>
<circle cx="416.2" cy="38.0" r="2.62"/>
<circle cx="407.5" cy="38.6" r="1.58"/>
<circle cx="419.4" cy="45.5" r="2.36"/>
<circle cx="421.9" cy="52.4" r="2.89"/>
<circle cx="426.2" cy="48.0" r="1.58"/>
<circle cx="430.0" cy="48.0" r="1.05"/>
<circle cx="380.0" cy="54.2" r="1.99"/>
<circle cx="376.9" cy="63.1" r="3.68"/>
<circle cx="373.8" cy="69.4" r="2.62"/>
<circle cx="383.1" cy="65.0" r="2.62"/>
<circle cx="386.2" cy="69.4" r="3.68"/>
<circle cx="375.6" cy="76.9" r="1.05"/>
<circle cx="381.9" cy="55.6" r="1.26"/>
<circle cx="420.6" cy="55.6" r="1.99"/>
<circle cx="407.5" cy="91.2" r="0.73"/>
<circle cx="472.5" cy="21.8" r="2.62"/>
<circle cx="475.6" cy="24.9" r="2.89"/>
<circle cx="476.9" cy="28.6" r="1.58"/>
<circle cx="456.2" cy="32.4" r="2.62"/>
<circle cx="460.0" cy="38.0" r="1.26"/>
<circle cx="458.8" cy="41.1" r="1.05"/>
<circle cx="495.0" cy="48.6" r="2.36"/>
<circle cx="501.2" cy="44.9" r="1.31"/>
<circle cx="506.2" cy="47.4" r="1.99"/>
<circle cx="501.2" cy="53.0" r="2.62"/>
<circle cx="473.8" cy="53.0" r="1.99"/>
<circle cx="492.5" cy="53.0" r="1.05"/></g>
<text x="243.6" y="116.0" font-size="8.8" text-anchor="middle" fill="#2b2b2b">Fisogatinib</text>
<text x="323.0" y="116.0" font-size="8.8" text-anchor="middle" fill="#2b2b2b">Sorafenib</text>
<text x="402.0" y="116.0" font-size="8.8" text-anchor="middle" fill="#2b2b2b">Regorafenib</text>
<text x="482.0" y="116.0" font-size="8.8" text-anchor="middle" fill="#2b2b2b">BGJ398</text>
<path d="M46.0 171.1L46.0 260.0M46.0 260.0L179.2 260.0" stroke="#5f5f5f" stroke-width="1.1" fill="none"/>
<path d="M43.2 260.0L46.0 260.0M43.2 237.8L46.0 237.8M43.2 215.6L46.0 215.6M43.2 193.3L46.0 193.3M43.2 171.1L46.0 171.1M46.0 260.0L46.0 262.2M72.7 260.0L72.7 262.2M99.3 260.0L99.3 262.2M126.0 260.0L126.0 262.2M152.6 260.0L152.6 262.2M179.2 260.0L179.2 262.2" stroke="#5f5f5f" stroke-width="0.9" fill="none"/>
<text x="39.8" y="263.1" font-size="8.8" text-anchor="end" fill="#2b2b2b">0</text>
<text x="39.8" y="240.9" font-size="8.8" text-anchor="end" fill="#2b2b2b">500</text>
<text x="39.8" y="218.7" font-size="8.8" text-anchor="end" fill="#2b2b2b">1,000</text>
<text x="39.8" y="196.4" font-size="8.8" text-anchor="end" fill="#2b2b2b">1,500</text>
<text x="39.8" y="174.2" font-size="8.8" text-anchor="end" fill="#2b2b2b">2,000</text>
<text x="46.0" y="272.8" font-size="8.8" text-anchor="middle" fill="#2b2b2b">0</text>
<text x="72.7" y="272.8" font-size="8.8" text-anchor="middle" fill="#2b2b2b">5</text>
<text x="99.3" y="272.8" font-size="8.8" text-anchor="middle" fill="#2b2b2b">10</text>
<text x="126.0" y="272.8" font-size="8.8" text-anchor="middle" fill="#2b2b2b">15</text>
<text x="152.6" y="272.8" font-size="8.8" text-anchor="middle" fill="#2b2b2b">20</text>
<text x="179.2" y="272.8" font-size="8.8" text-anchor="middle" fill="#2b2b2b">25</text>
<text x="113.1" y="285.9" font-size="8.8" text-anchor="middle" fill="#2b2b2b">Days after administration</text>
<text x="112.6" y="167.8" font-size="8.8" text-anchor="middle" fill="#2b2b2b">Hep3B</text>
<text transform="translate(12.0 214.5) rotate(-90)" font-size="9.1" text-anchor="middle" fill="#2b2b2b">Tumor volume (mm<tspan font-size="5.6" dy="-3.2">3</tspan><tspan dy="3.2">)</tspan></text>
<polyline points="46.0,253.3 62.0,255.1 78.0,260.0 99.3,260.0 120.6,260.0 136.6,260.0 152.6,260.0" stroke="#1b9350" stroke-width="1.05" fill="none"/>
<path d="M46.0 250.8L48.5 253.3L46.0 255.8L43.5 253.3Z" fill="#1b9350"/>
<path d="M62.0 252.6L64.5 255.1L62.0 257.6L59.5 255.1Z" fill="#1b9350"/>
<path d="M78.0 257.5L80.5 260.0L78.0 262.5L75.5 260.0Z" fill="#1b9350"/>
<path d="M99.3 257.5L101.8 260.0L99.3 262.5L96.8 260.0Z" fill="#1b9350"/>
<path d="M120.6 257.5L123.1 260.0L120.6 262.5L118.1 260.0Z" fill="#1b9350"/>
<path d="M136.6 257.5L139.1 260.0L136.6 262.5L134.1 260.0Z" fill="#1b9350"/>
<path d="M152.6 257.5L155.1 260.0L152.6 262.5L150.1 260.0Z" fill="#1b9350"/>
<polyline points="46.0,253.3 62.0,254.8 78.0,250.9 99.3,246.7 120.6,240.7 136.6,241.7 152.6,244.8" stroke="#45b3cf" stroke-width="1.05" fill="none"/>
<path d="M78.0 250.0L78.0 250.9M76.1 250.0L79.9 250.0M99.3 245.6L99.3 246.7M97.4 245.6L101.2 245.6M120.6 238.6L120.6 240.7M118.7 238.6L122.5 238.6M136.6 240.1L136.6 241.7M134.7 240.1L138.5 240.1M152.6 243.9L152.6 244.8M150.7 243.9L154.5 243.9" stroke="#45b3cf" stroke-width="0.8" fill="none"/>
<path d="M46.0 250.7L48.6 255.3L43.4 255.3Z" fill="#45b3cf"/>
<path d="M62.0 252.2L64.6 256.7L59.4 256.7Z" fill="#45b3cf"/>
<path d="M78.0 248.3L80.6 252.8L75.4 252.8Z" fill="#45b3cf"/>
<path d="M99.3 244.1L101.9 248.6L96.7 248.6Z" fill="#45b3cf"/>
<path d="M120.6 238.1L123.2 242.6L118.0 242.6Z" fill="#45b3cf"/>
<path d="M136.6 239.1L139.2 243.6L134.0 243.6Z" fill="#45b3cf"/>
<path d="M152.6 242.2L155.2 246.7L150.0 246.7Z" fill="#45b3cf"/>
<polyline points="46.0,253.3 62.0,248.7 78.0,242.4 99.3,233.8 120.6,232.4 136.6,219.8 152.6,224.9" stroke="#e0262c" stroke-width="1.05" fill="none"/>
<path d="M78.0 241.6L78.0 242.4M76.1 241.6L79.9 241.6M99.3 232.4L99.3 233.8M97.4 232.4L101.2 232.4M120.6 230.7L120.6 232.4M118.7 230.7L122.5 230.7M136.6 216.0L136.6 219.8M134.7 216.0L138.5 216.0M152.6 222.7L152.6 224.9M150.7 222.7L154.5 222.7" stroke="#e0262c" stroke-width="0.8" fill="none"/>
<rect x="44.1" y="251.4" width="3.80" height="3.80" fill="#e0262c"/>
<rect x="60.1" y="246.8" width="3.80" height="3.80" fill="#e0262c"/>
<rect x="76.1" y="240.5" width="3.80" height="3.80" fill="#e0262c"/>
<rect x="97.4" y="231.9" width="3.80" height="3.80" fill="#e0262c"/>
<rect x="118.7" y="230.5" width="3.80" height="3.80" fill="#e0262c"/>
<rect x="134.7" y="217.9" width="3.80" height="3.80" fill="#e0262c"/>
<rect x="150.7" y="223.0" width="3.80" height="3.80" fill="#e0262c"/>
<polyline points="46.0,253.3 62.0,247.8 78.0,226.7 99.3,226.4 120.6,219.1 136.6,201.8 152.6,188.4" stroke="#2b3a8f" stroke-width="1.05" fill="none"/>
<path d="M62.0 246.4L62.0 247.8M60.1 246.4L63.9 246.4M78.0 224.2L78.0 226.7M76.1 224.2L79.9 224.2M99.3 224.4L99.3 226.4M97.4 224.4L101.2 224.4M120.6 214.9L120.6 219.1M118.7 214.9L122.5 214.9M136.6 196.2L136.6 201.8M134.7 196.2L138.5 196.2M152.6 181.1L152.6 188.4M150.7 181.1L154.5 181.1" stroke="#2b3a8f" stroke-width="0.8" fill="none"/>
<circle cx="46.0" cy="253.3" r="2.35" fill="#2b3a8f"/>
<circle cx="62.0" cy="247.8" r="2.35" fill="#2b3a8f"/>
<circle cx="78.0" cy="226.7" r="2.35" fill="#2b3a8f"/>
<circle cx="99.3" cy="226.4" r="2.35" fill="#2b3a8f"/>
<circle cx="120.6" cy="219.1" r="2.35" fill="#2b3a8f"/>
<circle cx="136.6" cy="201.8" r="2.35" fill="#2b3a8f"/>
<circle cx="152.6" cy="188.4" r="2.35" fill="#2b3a8f"/>
<path d="M46.0 316.4L46.0 405.3M46.0 405.3L179.2 405.3" stroke="#5f5f5f" stroke-width="1.1" fill="none"/>
<path d="M43.2 405.3L46.0 405.3M43.2 375.7L46.0 375.7M43.2 346.0L46.0 346.0M43.2 316.4L46.0 316.4M46.0 405.3L46.0 407.5M72.7 405.3L72.7 407.5M99.3 405.3L99.3 407.5M126.0 405.3L126.0 407.5M152.6 405.3L152.6 407.5M179.2 405.3L179.2 407.5" stroke="#5f5f5f" stroke-width="0.9" fill="none"/>
<text x="39.8" y="408.4" font-size="8.8" text-anchor="end" fill="#2b2b2b">0</text>
<text x="39.8" y="378.8" font-size="8.8" text-anchor="end" fill="#2b2b2b">500</text>
<text x="39.8" y="349.1" font-size="8.8" text-anchor="end" fill="#2b2b2b">1,000</text>
<text x="39.8" y="319.5" font-size="8.8" text-anchor="end" fill="#2b2b2b">1,500</text>
<text x="46.0" y="418.1" font-size="8.8" text-anchor="middle" fill="#2b2b2b">0</text>
<text x="72.7" y="418.1" font-size="8.8" text-anchor="middle" fill="#2b2b2b">5</text>
<text x="99.3" y="418.1" font-size="8.8" text-anchor="middle" fill="#2b2b2b">10</text>
<text x="126.0" y="418.1" font-size="8.8" text-anchor="middle" fill="#2b2b2b">15</text>
<text x="152.6" y="418.1" font-size="8.8" text-anchor="middle" fill="#2b2b2b">20</text>
<text x="179.2" y="418.1" font-size="8.8" text-anchor="middle" fill="#2b2b2b">25</text>
<text x="113.1" y="431.2" font-size="8.8" text-anchor="middle" fill="#2b2b2b">Days after administration</text>
<text x="112.6" y="313.0" font-size="8.8" text-anchor="middle" fill="#2b2b2b">LIX-066</text>
<text transform="translate(12.0 360.5) rotate(-90)" font-size="9.1" text-anchor="middle" fill="#2b2b2b">Tumor volume (mm<tspan font-size="5.6" dy="-3.2">3</tspan><tspan dy="3.2">)</tspan></text>
<polyline points="46.0,394.9 67.3,391.1 83.3,388.7 104.6,387.5 120.6,392.8 141.9,394.6 157.9,395.6 179.2,397.5" stroke="#f4b328" stroke-width="1.05" fill="none"/>
<path d="M120.6 391.6L120.6 394.0M118.7 391.6L122.5 391.6M118.7 394.0L122.5 394.0M141.9 393.4L141.9 395.8M140.0 393.4L143.8 393.4M140.0 395.8L143.8 395.8M157.9 394.4L157.9 396.8M156.0 394.4L159.8 394.4M156.0 396.8L159.8 396.8M179.2 396.3L179.2 398.7M177.3 396.3L181.2 396.3M177.3 398.7L181.2 398.7" stroke="#f4b328" stroke-width="0.8" fill="none"/>
<path d="M46.0 397.5L48.6 393.0L43.4 393.0Z" fill="#f4b328"/>
<path d="M67.3 393.7L69.9 389.1L64.7 389.1Z" fill="#f4b328"/>
<path d="M83.3 391.3L85.9 386.7L80.7 386.7Z" fill="#f4b328"/>
<path d="M104.6 390.1L107.2 385.6L102.0 385.6Z" fill="#f4b328"/>
<path d="M120.6 395.4L123.2 390.8L118.0 390.8Z" fill="#f4b328"/>
<path d="M141.9 397.2L144.5 392.7L139.3 392.7Z" fill="#f4b328"/>
<path d="M157.9 398.2L160.5 393.6L155.3 393.6Z" fill="#f4b328"/>
<path d="M179.2 400.1L181.8 395.5L176.7 395.5Z" fill="#f4b328"/>
<polyline points="46.0,394.9 67.3,390.8 83.3,387.8 104.6,386.3 120.6,387.7 141.9,389.0 157.9,389.5 179.2,389.6" stroke="#45b3cf" stroke-width="1.05" fill="none"/>
<path d="M120.6 386.2L120.6 389.2M118.7 386.2L122.5 386.2M118.7 389.2L122.5 389.2M141.9 387.5L141.9 390.5M140.0 387.5L143.8 387.5M140.0 390.5L143.8 390.5M157.9 388.0L157.9 391.0M156.0 388.0L159.8 388.0M156.0 391.0L159.8 391.0M179.2 388.1L179.2 391.1M177.3 388.1L181.2 388.1M177.3 391.1L181.2 391.1" stroke="#45b3cf" stroke-width="0.8" fill="none"/>
<path d="M46.0 392.3L48.6 396.9L43.4 396.9Z" fill="#45b3cf"/>
<path d="M67.3 388.2L69.9 392.7L64.7 392.7Z" fill="#45b3cf"/>
<path d="M83.3 385.2L85.9 389.8L80.7 389.8Z" fill="#45b3cf"/>
<path d="M104.6 383.7L107.2 388.3L102.0 388.3Z" fill="#45b3cf"/>
<path d="M120.6 385.1L123.2 389.6L118.0 389.6Z" fill="#45b3cf"/>
<path d="M141.9 386.4L144.5 390.9L139.3 390.9Z" fill="#45b3cf"/>
<path d="M157.9 386.9L160.5 391.5L155.3 391.5Z" fill="#45b3cf"/>
<path d="M179.2 387.0L181.8 391.5L176.7 391.5Z" fill="#45b3cf"/>
<polyline points="46.0,394.9 67.3,389.8 83.3,385.1 104.6,382.8 120.6,386.3 141.9,389.0 157.9,391.1 179.2,393.1" stroke="#1b9350" stroke-width="1.05" fill="none"/>
<path d="M120.6 385.1L120.6 387.5M118.7 385.1L122.5 385.1M118.7 387.5L122.5 387.5M141.9 387.8L141.9 390.2M140.0 387.8L143.8 387.8M140.0 390.2L143.8 390.2M157.9 389.9L157.9 392.3M156.0 389.9L159.8 389.9M156.0 392.3L159.8 392.3M179.2 392.0L179.2 394.3M177.3 392.0L181.2 392.0M177.3 394.3L181.2 394.3" stroke="#1b9350" stroke-width="0.8" fill="none"/>
<path d="M46.0 392.4L48.5 394.9L46.0 397.4L43.5 394.9Z" fill="#1b9350"/>
<path d="M67.3 387.3L69.8 389.8L67.3 392.3L64.8 389.8Z" fill="#1b9350"/>
<path d="M83.3 382.6L85.8 385.1L83.3 387.6L80.8 385.1Z" fill="#1b9350"/>
<path d="M104.6 380.3L107.1 382.8L104.6 385.3L102.1 382.8Z" fill="#1b9350"/>
<path d="M120.6 383.8L123.1 386.3L120.6 388.8L118.1 386.3Z" fill="#1b9350"/>
<path d="M141.9 386.5L144.4 389.0L141.9 391.5L139.4 389.0Z" fill="#1b9350"/>
<path d="M157.9 388.6L160.4 391.1L157.9 393.6L155.4 391.1Z" fill="#1b9350"/>
<path d="M179.2 390.6L181.8 393.1L179.2 395.6L176.8 393.1Z" fill="#1b9350"/>
<polyline points="46.0,394.9 67.3,390.2 83.3,385.7 104.6,384.0 120.6,381.9 141.9,379.9 157.9,379.9 179.2,379.2" stroke="#8e2a8c" stroke-width="1.05" fill="none"/>
<path d="M120.6 379.2L120.6 384.5M118.7 379.2L122.5 379.2M118.7 384.5L122.5 384.5M141.9 376.4L141.9 383.5M140.0 376.4L143.8 376.4M140.0 383.5L143.8 383.5M157.9 375.8L157.9 384.1M156.0 375.8L159.8 375.8M156.0 384.1L159.8 384.1M179.2 375.1L179.2 383.4M177.3 375.1L181.2 375.1M177.3 383.4L181.2 383.4" stroke="#8e2a8c" stroke-width="0.8" fill="none"/>
<path d="M46.0 392.4L48.5 394.9L46.0 397.4L43.5 394.9Z" fill="#8e2a8c"/>
<path d="M67.3 387.7L69.8 390.2L67.3 392.7L64.8 390.2Z" fill="#8e2a8c"/>
<path d="M83.3 383.2L85.8 385.7L83.3 388.2L80.8 385.7Z" fill="#8e2a8c"/>
<path d="M104.6 381.5L107.1 384.0L104.6 386.5L102.1 384.0Z" fill="#8e2a8c"/>
<path d="M120.6 379.4L123.1 381.9L120.6 384.4L118.1 381.9Z" fill="#8e2a8c"/>
<path d="M141.9 377.4L144.4 379.9L141.9 382.4L139.4 379.9Z" fill="#8e2a8c"/>
<path d="M157.9 377.4L160.4 379.9L157.9 382.4L155.4 379.9Z" fill="#8e2a8c"/>
<path d="M179.2 376.7L181.8 379.2L179.2 381.7L176.8 379.2Z" fill="#8e2a8c"/>
<polyline points="46.0,394.9 67.3,387.0 83.3,379.8 104.6,375.7 120.6,369.7 141.9,365.1 157.9,357.3 179.2,343.9" stroke="#2b3a8f" stroke-width="1.05" fill="none"/>
<path d="M67.3 385.3L67.3 388.8M65.4 385.3L69.2 385.3M65.4 388.8L69.2 388.8M83.3 377.4L83.3 382.2M81.4 377.4L85.2 377.4M81.4 382.2L85.2 382.2M104.6 372.7L104.6 378.6M102.7 372.7L106.5 372.7M102.7 378.6L106.5 378.6M120.6 366.0L120.6 373.4M118.7 366.0L122.5 366.0M118.7 373.4L122.5 373.4M141.9 361.4L141.9 368.8M140.0 361.4L143.8 361.4M140.0 368.8L143.8 368.8M157.9 352.0L157.9 362.5M156.0 352.0L159.8 352.0M156.0 362.5L159.8 362.5M179.2 335.6L179.2 352.3M177.3 335.6L181.2 335.6M177.3 352.3L181.2 352.3" stroke="#2b3a8f" stroke-width="0.8" fill="none"/>
<circle cx="46.0" cy="394.9" r="2.35" fill="#2b3a8f"/>
<circle cx="67.3" cy="387.0" r="2.35" fill="#2b3a8f"/>
<circle cx="83.3" cy="379.8" r="2.35" fill="#2b3a8f"/>
<circle cx="104.6" cy="375.7" r="2.35" fill="#2b3a8f"/>
<circle cx="120.6" cy="369.7" r="2.35" fill="#2b3a8f"/>
<circle cx="141.9" cy="365.1" r="2.35" fill="#2b3a8f"/>
<circle cx="157.9" cy="357.3" r="2.35" fill="#2b3a8f"/>
<circle cx="179.2" cy="343.9" r="2.35" fill="#2b3a8f"/>
<path d="M198 241.8L207.6 241.8" stroke="#2b3a8f" stroke-width="1.05"/>
<circle cx="202.8" cy="241.8" r="2.12" fill="#2b3a8f"/>
<text x="210.8" y="244.9" font-size="8.8" text-anchor="start" fill="#2b2b2b">Vehicle</text>
<path d="M198 257.0L207.6 257.0" stroke="#e0262c" stroke-width="1.05"/>
<rect x="201.1" y="255.3" width="3.42" height="3.42" fill="#e0262c"/>
<text x="210.8" y="260.1" font-size="8.8" text-anchor="start" fill="#2b2b2b">Fisogatinib 10 mg/kg b.i.d.</text>
<path d="M198 272.2L207.6 272.2" stroke="#45b3cf" stroke-width="1.05"/>
<path d="M202.8 269.9L205.1 274.0L200.5 274.0Z" fill="#45b3cf"/>
<text x="210.8" y="275.3" font-size="8.8" text-anchor="start" fill="#2b2b2b">Fisogatinib 30 mg/kg b.i.d.</text>
<path d="M198 287.4L207.6 287.4" stroke="#1b9350" stroke-width="1.05"/>
<path d="M202.8 285.1L205.1 287.4L202.8 289.6L200.6 287.4Z" fill="#1b9350"/>
<text x="210.8" y="290.5" font-size="8.8" text-anchor="start" fill="#2b2b2b">Fisogatinib 100 mg/kg b.i.d.</text>
<path d="M198 302.6L207.6 302.6" stroke="#f4b328" stroke-width="1.05"/>
<path d="M202.8 304.9L205.1 300.8L200.5 300.8Z" fill="#f4b328"/>
<text x="210.8" y="305.7" font-size="8.8" text-anchor="start" fill="#2b2b2b">Fisogatinib 200 mg/kg b.i.d.</text>
<path d="M198 317.8L207.6 317.8" stroke="#8e2a8c" stroke-width="1.05"/>
<path d="M202.8 315.6L205.1 317.8L202.8 320.1L200.6 317.8Z" fill="#8e2a8c"/>
<text x="210.8" y="320.9" font-size="8.8" text-anchor="start" fill="#2b2b2b">Sorafenib 40 mg/kg q.d.</text>
<g clip-path="url(#clipA)">
<rect x="345" y="172" width="175" height="109" fill="#f5f2f0"/>
<rect x="345" y="172" width="175" height="109" fill="#fff" filter="url(#motA)"/>
<g filter="url(#soft)"><circle cx="442.8" cy="271.9" r="0.78" fill="#a06a48" fill-opacity="0.36"/><circle cx="462.5" cy="222.0" r="0.87" fill="#b07850" fill-opacity="0.17"/><circle cx="381.2" cy="245.0" r="0.92" fill="#b07850" fill-opacity="0.30"/><circle cx="424.4" cy="252.1" r="0.89" fill="#a06a48" fill-opacity="0.15"/><circle cx="356.3" cy="193.4" r="0.65" fill="#b07850" fill-opacity="0.34"/><circle cx="437.4" cy="204.3" r="0.64" fill="#c08a62" fill-opacity="0.27"/><circle cx="425.1" cy="202.8" r="1.10" fill="#b07850" fill-opacity="0.33"/><circle cx="402.0" cy="211.1" r="0.54" fill="#b07850" fill-opacity="0.25"/><circle cx="412.9" cy="275.5" r="1.01" fill="#b07850" fill-opacity="0.20"/><circle cx="355.1" cy="213.2" r="0.93" fill="#c08a62" fill-opacity="0.17"/><circle cx="480.7" cy="201.9" r="0.55" fill="#c08a62" fill-opacity="0.15"/><circle cx="505.7" cy="187.4" r="0.92" fill="#b07850" fill-opacity="0.16"/><circle cx="376.7" cy="232.8" r="0.77" fill="#b07850" fill-opacity="0.40"/><circle cx="418.5" cy="214.1" r="0.74" fill="#b07850" fill-opacity="0.15"/><circle cx="514.7" cy="236.4" r="1.10" fill="#b07850" fill-opacity="0.20"/><circle cx="493.8" cy="241.7" r="0.56" fill="#b07850" fill-opacity="0.20"/><circle cx="458.2" cy="213.7" r="0.68" fill="#b07850" fill-opacity="0.17"/><circle cx="442.1" cy="181.8" r="0.72" fill="#a06a48" fill-opacity="0.26"/><circle cx="429.7" cy="234.5" r="1.02" fill="#b07850" fill-opacity="0.31"/><circle cx="401.9" cy="230.0" r="0.94" fill="#b07850" fill-opacity="0.33"/><circle cx="380.0" cy="274.7" r="1.03" fill="#a06a48" fill-opacity="0.17"/><circle cx="384.6" cy="224.0" r="0.65" fill="#a06a48" fill-opacity="0.33"/><circle cx="465.5" cy="229.1" r="0.68" fill="#b07850" fill-opacity="0.38"/><circle cx="367.9" cy="224.3" r="0.89" fill="#a06a48" fill-opacity="0.30"/><circle cx="482.3" cy="205.0" r="0.51" fill="#c08a62" fill-opacity="0.25"/><circle cx="371.2" cy="210.7" r="0.82" fill="#b07850" fill-opacity="0.17"/><circle cx="424.5" cy="213.8" r="0.94" fill="#a06a48" fill-opacity="0.30"/><circle cx="367.9" cy="182.5" r="1.05" fill="#a06a48" fill-opacity="0.23"/><circle cx="438.2" cy="192.4" r="0.54" fill="#c08a62" fill-opacity="0.23"/><circle cx="359.0" cy="231.4" r="0.94" fill="#a06a48" fill-opacity="0.33"/><circle cx="494.6" cy="214.4" r="0.55" fill="#c08a62" fill-opacity="0.38"/><circle cx="418.2" cy="257.6" r="1.02" fill="#a06a48" fill-opacity="0.15"/><circle cx="411.6" cy="174.3" r="0.54" fill="#b07850" fill-opacity="0.31"/><circle cx="498.2" cy="250.9" r="0.73" fill="#a06a48" fill-opacity="0.32"/><circle cx="426.0" cy="230.9" r="0.81" fill="#a06a48" fill-opacity="0.16"/><circle cx="429.2" cy="197.6" r="0.92" fill="#c08a62" fill-opacity="0.34"/><circle cx="430.1" cy="268.9" r="0.72" fill="#b07850" fill-opacity="0.32"/><circle cx="394.1" cy="255.4" r="0.90" fill="#c08a62" fill-opacity="0.27"/><circle cx="420.4" cy="208.5" r="0.88" fill="#b07850" fill-opacity="0.37"/><circle cx="446.9" cy="206.9" r="0.58" fill="#c08a62" fill-opacity="0.24"/><circle cx="353.0" cy="179.9" r="1.09" fill="#b07850" fill-opacity="0.18"/><circle cx="506.2" cy="261.9" r="0.73" fill="#a06a48" fill-opacity="0.27"/><circle cx="467.9" cy="269.3" r="0.77" fill="#b07850" fill-opacity="0.36"/><circle cx="439.1" cy="234.6" r="0.67" fill="#c08a62" fill-opacity="0.23"/><circle cx="349.3" cy="187.5" r="0.77" fill="#b07850" fill-opacity="0.34"/><circle cx="459.1" cy="243.9" r="1.09" fill="#b07850" fill-opacity="0.26"/><circle cx="459.3" cy="259.4" r="1.08" fill="#a06a48" fill-opacity="0.20"/><circle cx="390.3" cy="249.4" r="0.95" fill="#a06a48" fill-opacity="0.33"/><circle cx="407.0" cy="214.7" r="0.92" fill="#a06a48" fill-opacity="0.28"/><circle cx="373.5" cy="263.8" r="0.92" fill="#b07850" fill-opacity="0.17"/><circle cx="471.0" cy="186.9" r="0.77" fill="#a06a48" fill-opacity="0.37"/><circle cx="433.5" cy="232.8" r="0.80" fill="#c08a62" fill-opacity="0.27"/><circle cx="381.4" cy="250.2" r="0.99" fill="#a06a48" fill-opacity="0.38"/><circle cx="403.5" cy="217.3" r="0.55" fill="#c08a62" fill-opacity="0.28"/><circle cx="401.4" cy="270.4" r="1.01" fill="#c08a62" fill-opacity="0.28"/><circle cx="414.4" cy="219.0" r="0.67" fill="#b07850" fill-opacity="0.20"/><circle cx="420.2" cy="176.8" r="0.82" fill="#a06a48" fill-opacity="0.35"/><circle cx="391.1" cy="224.3" r="0.93" fill="#a06a48" fill-opacity="0.32"/><circle cx="431.2" cy="274.6" r="0.55" fill="#b07850" fill-opacity="0.26"/><circle cx="489.8" cy="233.1" r="0.60" fill="#a06a48" fill-opacity="0.36"/><circle cx="399.9" cy="213.8" r="1.01" fill="#a06a48" fill-opacity="0.20"/><circle cx="513.5" cy="229.1" r="0.84" fill="#b07850" fill-opacity="0.25"/><circle cx="354.2" cy="216.5" r="0.82" fill="#b07850" fill-opacity="0.28"/><circle cx="484.6" cy="233.2" r="0.79" fill="#a06a48" fill-opacity="0.19"/><circle cx="425.4" cy="271.5" r="0.98" fill="#c08a62" fill-opacity="0.22"/><circle cx="368.0" cy="219.4" r="0.99" fill="#c08a62" fill-opacity="0.28"/><circle cx="421.7" cy="185.2" r="0.66" fill="#a06a48" fill-opacity="0.34"/><circle cx="397.5" cy="206.8" r="0.91" fill="#c08a62" fill-opacity="0.33"/><circle cx="428.7" cy="223.3" r="0.85" fill="#a06a48" fill-opacity="0.31"/><circle cx="467.3" cy="267.0" r="0.51" fill="#a06a48" fill-opacity="0.25"/><circle cx="373.6" cy="194.9" r="0.88" fill="#a06a48" fill-opacity="0.20"/><circle cx="432.8" cy="228.5" r="0.58" fill="#a06a48" fill-opacity="0.31"/><circle cx="395.8" cy="229.5" r="1.03" fill="#b07850" fill-opacity="0.20"/><circle cx="499.5" cy="187.3" r="0.64" fill="#a06a48" fill-opacity="0.17"/><circle cx="421.2" cy="273.7" r="0.83" fill="#a06a48" fill-opacity="0.18"/><circle cx="464.5" cy="174.9" r="0.62" fill="#a06a48" fill-opacity="0.24"/><circle cx="408.5" cy="248.4" r="0.88" fill="#c08a62" fill-opacity="0.28"/><circle cx="378.7" cy="180.5" r="0.56" fill="#b07850" fill-opacity="0.34"/><circle cx="502.6" cy="224.5" r="0.61" fill="#b07850" fill-opacity="0.20"/><circle cx="517.3" cy="272.2" r="0.56" fill="#b07850" fill-opacity="0.18"/><circle cx="359.4" cy="183.3" r="0.73" fill="#c08a62" fill-opacity="0.28"/><circle cx="450.0" cy="174.4" r="0.92" fill="#b07850" fill-opacity="0.20"/><circle cx="473.9" cy="216.4" r="0.62" fill="#b07850" fill-opacity="0.17"/><circle cx="402.0" cy="182.1" r="1.01" fill="#a06a48" fill-opacity="0.38"/><circle cx="379.0" cy="235.6" r="0.70" fill="#c08a62" fill-opacity="0.22"/><circle cx="454.3" cy="201.4" r="1.06" fill="#b07850" fill-opacity="0.37"/><circle cx="466.2" cy="255.1" r="0.96" fill="#c08a62" fill-opacity="0.20"/><circle cx="461.6" cy="212.0" r="0.56" fill="#c08a62" fill-opacity="0.40"/><circle cx="354.6" cy="202.2" r="1.08" fill="#c08a62" fill-opacity="0.23"/><circle cx="444.5" cy="230.0" r="0.73" fill="#c08a62" fill-opacity="0.31"/><circle cx="477.8" cy="277.9" r="0.51" fill="#a06a48" fill-opacity="0.18"/><circle cx="423.9" cy="223.6" r="0.96" fill="#a06a48" fill-opacity="0.24"/><circle cx="404.6" cy="255.4" r="0.83" fill="#a06a48" fill-opacity="0.25"/><circle cx="492.4" cy="183.7" r="0.77" fill="#a06a48" fill-opacity="0.17"/><circle cx="477.3" cy="177.8" r="1.06" fill="#b07850" fill-opacity="0.25"/><circle cx="494.0" cy="231.0" r="0.86" fill="#c08a62" fill-opacity="0.39"/><circle cx="437.1" cy="237.0" r="0.72" fill="#c08a62" fill-opacity="0.27"/><circle cx="485.1" cy="233.5" r="0.95" fill="#b07850" fill-opacity="0.15"/><circle cx="370.2" cy="201.1" r="0.95" fill="#c08a62" fill-opacity="0.16"/><circle cx="419.7" cy="228.2" r="0.93" fill="#c08a62" fill-opacity="0.17"/><circle cx="420.3" cy="224.1" r="1.08" fill="#b07850" fill-opacity="0.16"/><circle cx="463.4" cy="255.9" r="0.59" fill="#b07850" fill-opacity="0.30"/><circle cx="440.8" cy="220.9" r="0.62" fill="#b07850" fill-opacity="0.24"/><circle cx="416.5" cy="199.5" r="0.75" fill="#a06a48" fill-opacity="0.22"/><circle cx="418.6" cy="256.2" r="0.82" fill="#b07850" fill-opacity="0.39"/><circle cx="387.2" cy="185.2" r="1.04" fill="#a06a48" fill-opacity="0.31"/><circle cx="393.0" cy="246.3" r="0.84" fill="#a06a48" fill-opacity="0.20"/><circle cx="403.2" cy="262.4" r="0.80" fill="#a06a48" fill-opacity="0.38"/><circle cx="352.8" cy="179.5" r="0.66" fill="#c08a62" fill-opacity="0.16"/><circle cx="401.2" cy="210.4" r="0.95" fill="#a06a48" fill-opacity="0.19"/><circle cx="501.7" cy="222.4" r="0.71" fill="#c08a62" fill-opacity="0.24"/><circle cx="491.1" cy="181.0" r="0.57" fill="#a06a48" fill-opacity="0.36"/><circle cx="422.9" cy="253.0" r="0.73" fill="#b07850" fill-opacity="0.24"/><circle cx="517.1" cy="207.8" r="0.83" fill="#a06a48" fill-opacity="0.36"/><circle cx="444.0" cy="228.1" r="0.78" fill="#c08a62" fill-opacity="0.17"/><circle cx="434.8" cy="222.5" r="0.91" fill="#c08a62" fill-opacity="0.36"/><circle cx="411.1" cy="256.1" r="0.86" fill="#a06a48" fill-opacity="0.23"/><circle cx="466.1" cy="203.3" r="0.59" fill="#c08a62" fill-opacity="0.31"/><circle cx="480.0" cy="213.3" r="0.76" fill="#a06a48" fill-opacity="0.38"/><circle cx="504.0" cy="219.9" r="0.98" fill="#c08a62" fill-opacity="0.26"/><circle cx="496.1" cy="238.3" r="0.81" fill="#b07850" fill-opacity="0.24"/><circle cx="408.9" cy="215.3" r="0.73" fill="#b07850" fill-opacity="0.33"/><circle cx="413.5" cy="189.6" r="0.85" fill="#b07850" fill-opacity="0.19"/><circle cx="498.4" cy="203.1" r="0.51" fill="#a06a48" fill-opacity="0.16"/><circle cx="409.6" cy="183.6" r="1.01" fill="#c08a62" fill-opacity="0.17"/><circle cx="482.3" cy="182.0" r="0.55" fill="#a06a48" fill-opacity="0.18"/><circle cx="364.8" cy="232.8" r="0.56" fill="#a06a48" fill-opacity="0.26"/><circle cx="430.6" cy="270.1" r="0.70" fill="#c08a62" fill-opacity="0.25"/><circle cx="496.3" cy="234.1" r="0.80" fill="#a06a48" fill-opacity="0.35"/><circle cx="440.2" cy="188.2" r="0.95" fill="#a06a48" fill-opacity="0.24"/><circle cx="417.9" cy="194.2" r="0.78" fill="#a06a48" fill-opacity="0.31"/><circle cx="468.8" cy="258.8" r="0.75" fill="#c08a62" fill-opacity="0.38"/><circle cx="393.1" cy="231.6" r="0.91" fill="#c08a62" fill-opacity="0.20"/><circle cx="396.5" cy="276.8" r="0.54" fill="#c08a62" fill-opacity="0.33"/><circle cx="392.1" cy="257.3" r="1.05" fill="#c08a62" fill-opacity="0.15"/><circle cx="484.5" cy="206.4" r="0.62" fill="#c08a62" fill-opacity="0.20"/><circle cx="451.2" cy="229.0" r="0.63" fill="#b07850" fill-opacity="0.37"/><circle cx="503.5" cy="273.3" r="0.88" fill="#a06a48" fill-opacity="0.27"/><circle cx="476.2" cy="256.5" r="0.71" fill="#a06a48" fill-opacity="0.34"/><circle cx="471.7" cy="217.8" r="0.63" fill="#b07850" fill-opacity="0.35"/><circle cx="437.3" cy="228.2" r="0.66" fill="#b07850" fill-opacity="0.31"/><circle cx="358.2" cy="221.8" r="0.72" fill="#b07850" fill-opacity="0.33"/><circle cx="373.2" cy="189.8" r="0.69" fill="#c08a62" fill-opacity="0.38"/><circle cx="368.7" cy="252.4" r="0.87" fill="#a06a48" fill-opacity="0.28"/><circle cx="457.9" cy="175.6" r="0.99" fill="#b07850" fill-opacity="0.36"/><circle cx="406.7" cy="237.3" r="0.56" fill="#c08a62" fill-opacity="0.32"/><circle cx="455.1" cy="225.9" r="0.80" fill="#b07850" fill-opacity="0.35"/><circle cx="504.6" cy="182.7" r="1.00" fill="#b07850" fill-opacity="0.16"/><circle cx="431.5" cy="274.3" r="1.08" fill="#c08a62" fill-opacity="0.23"/><circle cx="410.6" cy="221.5" r="0.93" fill="#c08a62" fill-opacity="0.17"/><circle cx="445.5" cy="234.4" r="0.95" fill="#b07850" fill-opacity="0.31"/><circle cx="417.8" cy="236.9" r="0.64" fill="#a06a48" fill-opacity="0.18"/><circle cx="494.1" cy="263.4" r="0.93" fill="#a06a48" fill-opacity="0.19"/><circle cx="508.2" cy="253.2" r="1.07" fill="#c08a62" fill-opacity="0.29"/><circle cx="396.8" cy="216.5" r="0.57" fill="#c08a62" fill-opacity="0.39"/><circle cx="471.2" cy="208.5" r="1.00" fill="#b07850" fill-opacity="0.18"/><circle cx="368.7" cy="240.5" r="0.61" fill="#b07850" fill-opacity="0.25"/><circle cx="448.5" cy="182.6" r="0.64" fill="#b07850" fill-opacity="0.40"/><circle cx="479.4" cy="209.6" r="0.99" fill="#a06a48" fill-opacity="0.18"/><circle cx="391.0" cy="235.5" r="0.79" fill="#c08a62" fill-opacity="0.31"/><circle cx="452.1" cy="207.0" r="0.97" fill="#b07850" fill-opacity="0.32"/><circle cx="349.2" cy="208.4" r="0.71" fill="#a06a48" fill-opacity="0.26"/><circle cx="381.4" cy="208.6" r="0.68" fill="#b07850" fill-opacity="0.30"/><circle cx="457.4" cy="255.0" r="0.83" fill="#c08a62" fill-opacity="0.30"/><circle cx="445.3" cy="194.2" r="1.06" fill="#a06a48" fill-opacity="0.33"/><circle cx="444.2" cy="175.9" r="0.90" fill="#b07850" fill-opacity="0.18"/><circle cx="418.2" cy="208.7" r="0.56" fill="#c08a62" fill-opacity="0.22"/><circle cx="424.2" cy="251.1" r="0.64" fill="#a06a48" fill-opacity="0.29"/><circle cx="442.9" cy="201.3" r="1.05" fill="#c08a62" fill-opacity="0.30"/><circle cx="465.6" cy="211.1" r="1.04" fill="#b07850" fill-opacity="0.34"/><circle cx="374.7" cy="236.9" r="0.99" fill="#c08a62" fill-opacity="0.16"/><circle cx="504.5" cy="260.3" r="0.90" fill="#c08a62" fill-opacity="0.34"/><circle cx="502.8" cy="238.8" r="0.88" fill="#b07850" fill-opacity="0.19"/><circle cx="351.7" cy="229.5" r="0.57" fill="#c08a62" fill-opacity="0.19"/><circle cx="391.6" cy="233.8" r="0.70" fill="#a06a48" fill-opacity="0.35"/><circle cx="482.2" cy="216.1" r="0.80" fill="#b07850" fill-opacity="0.27"/><circle cx="453.9" cy="246.8" r="0.95" fill="#c08a62" fill-opacity="0.27"/><circle cx="491.0" cy="264.5" r="0.75" fill="#c08a62" fill-opacity="0.18"/><circle cx="487.5" cy="213.8" r="0.81" fill="#c08a62" fill-opacity="0.38"/><circle cx="373.3" cy="238.0" r="1.04" fill="#a06a48" fill-opacity="0.24"/><circle cx="460.5" cy="252.5" r="1.03" fill="#b07850" fill-opacity="0.18"/><circle cx="433.0" cy="215.4" r="0.53" fill="#a06a48" fill-opacity="0.18"/><circle cx="440.3" cy="243.3" r="1.06" fill="#b07850" fill-opacity="0.40"/><circle cx="496.8" cy="212.5" r="0.83" fill="#a06a48" fill-opacity="0.35"/><circle cx="454.8" cy="227.3" r="1.04" fill="#b07850" fill-opacity="0.28"/><circle cx="475.2" cy="227.8" r="0.77" fill="#c08a62" fill-opacity="0.21"/><circle cx="412.6" cy="190.7" r="1.04" fill="#a06a48" fill-opacity="0.25"/><circle cx="447.3" cy="177.9" r="0.52" fill="#c08a62" fill-opacity="0.23"/><circle cx="507.6" cy="277.6" r="0.78" fill="#b07850" fill-opacity="0.20"/><circle cx="465.8" cy="179.3" r="0.69" fill="#c08a62" fill-opacity="0.37"/><circle cx="442.0" cy="236.0" r="0.84" fill="#a06a48" fill-opacity="0.31"/><circle cx="474.9" cy="188.9" r="0.56" fill="#a06a48" fill-opacity="0.35"/><circle cx="393.4" cy="218.0" r="1.03" fill="#c08a62" fill-opacity="0.32"/><circle cx="423.0" cy="181.5" r="0.63" fill="#c08a62" fill-opacity="0.18"/><circle cx="392.5" cy="250.1" r="0.80" fill="#c08a62" fill-opacity="0.35"/><circle cx="460.5" cy="267.6" r="0.85" fill="#b07850" fill-opacity="0.39"/><circle cx="377.2" cy="197.2" r="0.58" fill="#a06a48" fill-opacity="0.17"/><circle cx="422.2" cy="229.5" r="0.82" fill="#b07850" fill-opacity="0.15"/><circle cx="438.9" cy="218.3" r="0.84" fill="#b07850" fill-opacity="0.22"/><circle cx="388.5" cy="202.9" r="0.83" fill="#b07850" fill-opacity="0.35"/><circle cx="478.3" cy="230.7" r="1.05" fill="#a06a48" fill-opacity="0.25"/><circle cx="432.5" cy="192.2" r="0.83" fill="#a06a48" fill-opacity="0.38"/><circle cx="427.4" cy="185.7" r="0.67" fill="#a06a48" fill-opacity="0.32"/><circle cx="510.6" cy="191.6" r="0.97" fill="#b07850" fill-opacity="0.18"/><circle cx="461.6" cy="231.6" r="0.65" fill="#a06a48" fill-opacity="0.35"/><circle cx="427.9" cy="206.4" r="0.85" fill="#c08a62" fill-opacity="0.22"/><circle cx="497.1" cy="189.3" r="0.77" fill="#b07850" fill-opacity="0.23"/><circle cx="451.3" cy="259.3" r="0.80" fill="#a06a48" fill-opacity="0.22"/><circle cx="358.5" cy="270.1" r="0.84" fill="#a06a48" fill-opacity="0.29"/><circle cx="453.8" cy="178.8" r="0.76" fill="#a06a48" fill-opacity="0.23"/><circle cx="436.9" cy="201.3" r="0.85" fill="#b07850" fill-opacity="0.31"/><circle cx="411.5" cy="199.6" r="0.80" fill="#a06a48" fill-opacity="0.36"/><circle cx="356.6" cy="216.9" r="0.72" fill="#b07850" fill-opacity="0.33"/><circle cx="368.2" cy="253.8" r="0.86" fill="#b07850" fill-opacity="0.19"/><circle cx="474.9" cy="177.2" r="0.64" fill="#a06a48" fill-opacity="0.19"/><circle cx="397.6" cy="218.4" r="0.55" fill="#b07850" fill-opacity="0.32"/><circle cx="514.9" cy="238.5" r="0.68" fill="#b07850" fill-opacity="0.29"/><circle cx="425.4" cy="259.2" r="0.72" fill="#c08a62" fill-opacity="0.39"/><circle cx="383.8" cy="190.2" r="0.85" fill="#b07850" fill-opacity="0.33"/><circle cx="503.8" cy="267.6" r="1.05" fill="#b07850" fill-opacity="0.27"/><circle cx="491.8" cy="213.8" r="1.37" fill="#b07a55" fill-opacity="0.19"/><circle cx="491.6" cy="213.8" r="0.62" fill="#4e3528" fill-opacity="0.52"/><circle cx="400.1" cy="221.5" r="1.09" fill="#b07a55" fill-opacity="0.23"/><circle cx="400.3" cy="221.8" r="0.95" fill="#4e3528" fill-opacity="0.54"/><circle cx="358.6" cy="247.0" r="1.12" fill="#b07a55" fill-opacity="0.20"/><circle cx="358.3" cy="246.8" r="0.46" fill="#4e3528" fill-opacity="0.63"/><circle cx="469.7" cy="201.7" r="1.12" fill="#b07a55" fill-opacity="0.18"/><circle cx="469.6" cy="202.0" r="0.92" fill="#4e3528" fill-opacity="0.78"/><circle cx="349.5" cy="207.5" r="1.13" fill="#b07a55" fill-opacity="0.16"/><circle cx="349.4" cy="207.7" r="0.89" fill="#4e3528" fill-opacity="0.68"/><circle cx="419.4" cy="207.6" r="0.92" fill="#b07a55" fill-opacity="0.18"/><circle cx="419.0" cy="207.5" r="0.75" fill="#4e3528" fill-opacity="0.64"/><circle cx="369.5" cy="248.6" r="1.06" fill="#b07a55" fill-opacity="0.27"/><circle cx="369.2" cy="248.4" r="0.78" fill="#4e3528" fill-opacity="0.58"/><circle cx="416.1" cy="214.4" r="1.42" fill="#b07a55" fill-opacity="0.19"/><circle cx="416.0" cy="214.1" r="0.60" fill="#4e3528" fill-opacity="0.47"/><circle cx="441.5" cy="227.2" r="1.39" fill="#b07a55" fill-opacity="0.32"/><circle cx="441.6" cy="227.5" r="0.60" fill="#4e3528" fill-opacity="0.55"/><circle cx="461.3" cy="275.2" r="1.42" fill="#b07a55" fill-opacity="0.19"/><circle cx="461.0" cy="275.1" r="0.77" fill="#4e3528" fill-opacity="0.63"/><circle cx="418.4" cy="213.6" r="1.20" fill="#b07a55" fill-opacity="0.20"/><circle cx="418.3" cy="213.6" r="0.53" fill="#4e3528" fill-opacity="0.53"/><circle cx="387.5" cy="183.0" r="1.11" fill="#b07a55" fill-opacity="0.22"/><circle cx="387.6" cy="183.1" r="0.53" fill="#4e3528" fill-opacity="0.70"/><circle cx="350.0" cy="214.9" r="1.12" fill="#b07a55" fill-opacity="0.16"/><circle cx="349.6" cy="214.9" r="0.65" fill="#4e3528" fill-opacity="0.71"/><circle cx="402.3" cy="200.1" r="0.91" fill="#b07a55" fill-opacity="0.21"/><circle cx="402.4" cy="199.9" r="0.90" fill="#4e3528" fill-opacity="0.75"/><circle cx="426.1" cy="230.3" r="1.47" fill="#b07a55" fill-opacity="0.21"/><circle cx="426.5" cy="230.5" r="0.74" fill="#4e3528" fill-opacity="0.73"/><circle cx="417.1" cy="217.5" r="1.07" fill="#b07a55" fill-opacity="0.29"/><circle cx="417.0" cy="217.8" r="0.89" fill="#4e3528" fill-opacity="0.47"/><circle cx="429.5" cy="212.4" r="1.12" fill="#b07a55" fill-opacity="0.32"/><circle cx="429.2" cy="212.2" r="0.52" fill="#4e3528" fill-opacity="0.76"/><circle cx="349.6" cy="225.9" r="1.14" fill="#b07a55" fill-opacity="0.19"/><circle cx="349.7" cy="225.9" r="0.70" fill="#4e3528" fill-opacity="0.73"/><circle cx="489.8" cy="276.7" r="1.10" fill="#b07a55" fill-opacity="0.21"/><circle cx="489.6" cy="276.8" r="0.89" fill="#4e3528" fill-opacity="0.76"/><circle cx="512.8" cy="261.2" r="1.00" fill="#b07a55" fill-opacity="0.26"/><circle cx="512.8" cy="261.1" r="0.70" fill="#4e3528" fill-opacity="0.58"/><circle cx="438.4" cy="198.4" r="1.05" fill="#b07a55" fill-opacity="0.21"/><circle cx="438.4" cy="198.1" r="0.54" fill="#4e3528" fill-opacity="0.48"/><circle cx="383.4" cy="236.5" r="0.97" fill="#b07a55" fill-opacity="0.23"/><circle cx="383.4" cy="236.2" r="0.84" fill="#4e3528" fill-opacity="0.84"/><circle cx="355.2" cy="200.2" r="1.20" fill="#b07a55" fill-opacity="0.29"/><circle cx="355.4" cy="200.0" r="0.65" fill="#4e3528" fill-opacity="0.77"/><circle cx="413.5" cy="240.7" r="1.41" fill="#b07a55" fill-opacity="0.29"/><circle cx="413.5" cy="240.9" r="0.73" fill="#4e3528" fill-opacity="0.73"/><circle cx="484.6" cy="186.4" r="1.13" fill="#b07a55" fill-opacity="0.26"/><circle cx="484.4" cy="186.0" r="0.57" fill="#4e3528" fill-opacity="0.71"/><circle cx="513.9" cy="187.3" r="1.31" fill="#b07a55" fill-opacity="0.22"/><circle cx="513.8" cy="187.7" r="0.77" fill="#4e3528" fill-opacity="0.89"/><circle cx="450.7" cy="197.4" r="0.93" fill="#b07a55" fill-opacity="0.20"/><circle cx="451.1" cy="197.1" r="0.82" fill="#4e3528" fill-opacity="0.60"/><circle cx="432.8" cy="222.4" r="1.12" fill="#b07a55" fill-opacity="0.20"/><circle cx="433.0" cy="222.2" r="0.85" fill="#4e3528" fill-opacity="0.63"/><circle cx="478.4" cy="278.0" r="1.13" fill="#b07a55" fill-opacity="0.27"/><circle cx="478.6" cy="277.7" r="0.72" fill="#4e3528" fill-opacity="0.53"/><circle cx="486.1" cy="208.6" r="1.19" fill="#b07a55" fill-opacity="0.17"/><circle cx="485.7" cy="208.6" r="0.61" fill="#4e3528" fill-opacity="0.51"/><circle cx="393.4" cy="197.3" r="1.19" fill="#b07a55" fill-opacity="0.21"/><circle cx="393.0" cy="197.0" r="0.58" fill="#4e3528" fill-opacity="0.85"/><circle cx="378.7" cy="203.3" r="1.19" fill="#b07a55" fill-opacity="0.32"/><circle cx="379.0" cy="203.3" r="0.55" fill="#4e3528" fill-opacity="0.64"/><circle cx="414.5" cy="179.2" r="1.23" fill="#b07a55" fill-opacity="0.26"/><circle cx="414.3" cy="179.5" r="0.76" fill="#4e3528" fill-opacity="0.84"/><circle cx="422.7" cy="262.2" r="1.33" fill="#b07a55" fill-opacity="0.18"/><circle cx="422.4" cy="261.9" r="0.46" fill="#4e3528" fill-opacity="0.48"/><circle cx="476.4" cy="206.2" r="1.21" fill="#b07a55" fill-opacity="0.15"/><circle cx="476.7" cy="205.8" r="0.56" fill="#4e3528" fill-opacity="0.69"/><circle cx="483.1" cy="251.7" r="1.14" fill="#b07a55" fill-opacity="0.29"/><circle cx="483.3" cy="252.1" r="0.86" fill="#4e3528" fill-opacity="0.50"/><circle cx="415.6" cy="248.5" r="1.05" fill="#b07a55" fill-opacity="0.30"/><circle cx="415.7" cy="248.2" r="0.46" fill="#4e3528" fill-opacity="0.62"/><circle cx="459.7" cy="259.8" r="1.12" fill="#b07a55" fill-opacity="0.26"/><circle cx="459.5" cy="260.1" r="0.63" fill="#4e3528" fill-opacity="0.59"/><circle cx="413.6" cy="239.3" r="1.03" fill="#b07a55" fill-opacity="0.28"/><circle cx="413.8" cy="239.0" r="0.72" fill="#4e3528" fill-opacity="0.50"/><circle cx="415.2" cy="219.5" r="0.91" fill="#b07a55" fill-opacity="0.24"/><circle cx="415.1" cy="219.6" r="0.65" fill="#4e3528" fill-opacity="0.88"/><circle cx="474.9" cy="213.2" r="1.35" fill="#b07a55" fill-opacity="0.17"/><circle cx="474.9" cy="213.5" r="0.94" fill="#4e3528" fill-opacity="0.55"/><circle cx="468.1" cy="192.0" r="1.06" fill="#b07a55" fill-opacity="0.27"/><circle cx="468.0" cy="191.8" r="0.92" fill="#4e3528" fill-opacity="0.61"/><circle cx="371.6" cy="240.9" r="1.13" fill="#b07a55" fill-opacity="0.26"/><circle cx="371.7" cy="241.2" r="0.56" fill="#4e3528" fill-opacity="0.84"/><circle cx="433.3" cy="233.7" r="0.97" fill="#b07a55" fill-opacity="0.29"/><circle cx="433.3" cy="233.9" r="0.79" fill="#4e3528" fill-opacity="0.64"/><circle cx="385.8" cy="237.3" r="1.24" fill="#b07a55" fill-opacity="0.24"/><circle cx="385.9" cy="237.2" r="0.47" fill="#4e3528" fill-opacity="0.72"/><circle cx="507.2" cy="189.3" r="1.18" fill="#b07a55" fill-opacity="0.32"/><circle cx="507.0" cy="189.4" r="0.82" fill="#4e3528" fill-opacity="0.90"/><circle cx="496.1" cy="186.6" r="1.49" fill="#b07a55" fill-opacity="0.23"/><circle cx="496.3" cy="186.7" r="0.57" fill="#4e3528" fill-opacity="0.87"/><circle cx="484.0" cy="227.7" r="1.50" fill="#b07a55" fill-opacity="0.16"/><circle cx="484.2" cy="227.5" r="0.89" fill="#4e3528" fill-opacity="0.81"/><circle cx="438.8" cy="265.6" r="1.02" fill="#b07a55" fill-opacity="0.20"/><circle cx="438.4" cy="265.7" r="0.77" fill="#4e3528" fill-opacity="0.80"/><circle cx="387.8" cy="258.6" r="1.41" fill="#b07a55" fill-opacity="0.28"/><circle cx="388.2" cy="258.8" r="0.72" fill="#4e3528" fill-opacity="0.52"/><circle cx="363.4" cy="176.9" r="1.11" fill="#b07a55" fill-opacity="0.30"/><circle cx="363.1" cy="176.7" r="0.87" fill="#4e3528" fill-opacity="0.62"/><circle cx="452.8" cy="269.5" r="0.94" fill="#b07a55" fill-opacity="0.32"/><circle cx="452.9" cy="269.8" r="0.55" fill="#4e3528" fill-opacity="0.78"/><circle cx="445.6" cy="219.5" r="0.91" fill="#b07a55" fill-opacity="0.21"/><circle cx="445.7" cy="219.4" r="0.61" fill="#4e3528" fill-opacity="0.72"/><circle cx="377.3" cy="186.7" r="1.32" fill="#b07a55" fill-opacity="0.23"/><circle cx="376.9" cy="187.1" r="0.51" fill="#4e3528" fill-opacity="0.72"/><circle cx="379.9" cy="279.4" r="1.31" fill="#b07a55" fill-opacity="0.28"/><circle cx="379.8" cy="279.4" r="0.63" fill="#4e3528" fill-opacity="0.52"/><circle cx="419.5" cy="260.8" r="1.15" fill="#b07a55" fill-opacity="0.23"/><circle cx="419.8" cy="260.6" r="0.70" fill="#4e3528" fill-opacity="0.77"/><circle cx="436.3" cy="210.9" r="1.42" fill="#b07a55" fill-opacity="0.20"/><circle cx="436.4" cy="210.8" r="0.88" fill="#4e3528" fill-opacity="0.87"/><circle cx="474.6" cy="237.3" r="1.17" fill="#b07a55" fill-opacity="0.16"/><circle cx="474.4" cy="237.3" r="0.66" fill="#4e3528" fill-opacity="0.88"/><circle cx="448.6" cy="234.1" r="1.05" fill="#b07a55" fill-opacity="0.22"/><circle cx="448.9" cy="233.9" r="0.52" fill="#4e3528" fill-opacity="0.64"/><circle cx="465.0" cy="249.0" r="1.25" fill="#b07a55" fill-opacity="0.24"/><circle cx="465.3" cy="248.7" r="0.50" fill="#4e3528" fill-opacity="0.61"/><circle cx="471.1" cy="244.6" r="1.11" fill="#b07a55" fill-opacity="0.30"/><circle cx="470.7" cy="244.7" r="0.92" fill="#4e3528" fill-opacity="0.66"/><circle cx="426.4" cy="206.8" r="1.30" fill="#b07a55" fill-opacity="0.25"/><circle cx="426.8" cy="207.2" r="0.94" fill="#4e3528" fill-opacity="0.63"/><circle cx="458.4" cy="248.0" r="1.50" fill="#b07a55" fill-opacity="0.16"/><circle cx="458.4" cy="248.1" r="0.68" fill="#4e3528" fill-opacity="0.55"/><circle cx="382.2" cy="212.6" r="0.99" fill="#b07a55" fill-opacity="0.22"/><circle cx="381.9" cy="212.3" r="0.82" fill="#4e3528" fill-opacity="0.74"/><circle cx="474.4" cy="200.1" r="1.39" fill="#b07a55" fill-opacity="0.27"/><circle cx="474.1" cy="200.1" r="0.84" fill="#4e3528" fill-opacity="0.46"/><circle cx="509.4" cy="268.9" r="0.91" fill="#b07a55" fill-opacity="0.21"/><circle cx="509.4" cy="268.5" r="0.72" fill="#4e3528" fill-opacity="0.81"/><circle cx="429.5" cy="198.0" r="1.24" fill="#b07a55" fill-opacity="0.17"/><circle cx="429.5" cy="197.9" r="0.49" fill="#4e3528" fill-opacity="0.80"/><circle cx="421.2" cy="189.5" r="1.03" fill="#b07a55" fill-opacity="0.23"/><circle cx="421.2" cy="189.8" r="0.73" fill="#4e3528" fill-opacity="0.50"/><circle cx="372.8" cy="276.8" r="1.21" fill="#b07a55" fill-opacity="0.22"/><circle cx="373.1" cy="277.2" r="0.76" fill="#4e3528" fill-opacity="0.64"/><circle cx="391.8" cy="245.9" r="1.34" fill="#b07a55" fill-opacity="0.27"/><circle cx="391.9" cy="245.5" r="0.53" fill="#4e3528" fill-opacity="0.50"/><circle cx="495.6" cy="232.1" r="1.41" fill="#b07a55" fill-opacity="0.16"/><circle cx="495.2" cy="231.9" r="0.66" fill="#4e3528" fill-opacity="0.50"/><circle cx="402.9" cy="225.3" r="1.29" fill="#b07a55" fill-opacity="0.30"/><circle cx="402.9" cy="225.3" r="0.92" fill="#4e3528" fill-opacity="0.86"/><circle cx="397.8" cy="252.1" r="1.05" fill="#b07a55" fill-opacity="0.21"/><circle cx="397.8" cy="252.0" r="0.66" fill="#4e3528" fill-opacity="0.64"/><circle cx="354.6" cy="262.4" r="0.94" fill="#b07a55" fill-opacity="0.24"/><circle cx="354.5" cy="262.2" r="0.72" fill="#4e3528" fill-opacity="0.49"/><circle cx="400.4" cy="224.8" r="1.04" fill="#b07a55" fill-opacity="0.28"/><circle cx="400.0" cy="224.7" r="0.69" fill="#4e3528" fill-opacity="0.88"/><circle cx="437.7" cy="264.1" r="1.12" fill="#b07a55" fill-opacity="0.25"/><circle cx="437.5" cy="264.2" r="0.63" fill="#4e3528" fill-opacity="0.72"/><circle cx="428.6" cy="224.3" r="1.35" fill="#b07a55" fill-opacity="0.16"/><circle cx="428.4" cy="224.1" r="0.50" fill="#4e3528" fill-opacity="0.81"/><circle cx="494.8" cy="216.0" r="1.07" fill="#b07a55" fill-opacity="0.27"/><circle cx="495.2" cy="216.3" r="0.49" fill="#4e3528" fill-opacity="0.60"/><circle cx="464.8" cy="243.1" r="1.29" fill="#b07a55" fill-opacity="0.16"/><circle cx="464.4" cy="243.2" r="0.83" fill="#4e3528" fill-opacity="0.70"/><circle cx="456.5" cy="175.4" r="1.46" fill="#b07a55" fill-opacity="0.28"/><circle cx="456.1" cy="175.6" r="0.74" fill="#4e3528" fill-opacity="0.64"/><circle cx="516.2" cy="271.1" r="0.94" fill="#b07a55" fill-opacity="0.28"/><circle cx="516.4" cy="271.0" r="0.67" fill="#4e3528" fill-opacity="0.65"/><circle cx="366.4" cy="207.2" r="1.34" fill="#b07a55" fill-opacity="0.16"/><circle cx="366.7" cy="207.4" r="0.51" fill="#4e3528" fill-opacity="0.70"/><circle cx="386.2" cy="212.5" r="1.47" fill="#b07a55" fill-opacity="0.25"/><circle cx="386.0" cy="212.4" r="0.91" fill="#4e3528" fill-opacity="0.69"/><circle cx="367.3" cy="266.5" r="1.18" fill="#b07a55" fill-opacity="0.16"/><circle cx="367.2" cy="266.6" r="0.67" fill="#4e3528" fill-opacity="0.87"/><circle cx="465.3" cy="214.5" r="1.37" fill="#b07a55" fill-opacity="0.17"/><circle cx="465.0" cy="214.6" r="0.82" fill="#4e3528" fill-opacity="0.54"/><circle cx="393.3" cy="214.9" r="1.25" fill="#b07a55" fill-opacity="0.24"/><circle cx="393.4" cy="215.2" r="0.64" fill="#4e3528" fill-opacity="0.61"/><circle cx="429.1" cy="277.9" r="1.10" fill="#b07a55" fill-opacity="0.27"/><circle cx="428.9" cy="278.1" r="0.57" fill="#4e3528" fill-opacity="0.71"/><circle cx="375.6" cy="246.5" r="1.13" fill="#b07a55" fill-opacity="0.27"/><circle cx="375.7" cy="246.5" r="0.67" fill="#4e3528" fill-opacity="0.89"/><circle cx="424.9" cy="225.1" r="1.04" fill="#b07a55" fill-opacity="0.28"/><circle cx="424.7" cy="225.4" r="0.50" fill="#4e3528" fill-opacity="0.47"/><circle cx="444.3" cy="232.0" r="1.10" fill="#b07a55" fill-opacity="0.18"/><circle cx="444.5" cy="232.3" r="0.93" fill="#4e3528" fill-opacity="0.49"/><circle cx="383.8" cy="194.3" r="1.22" fill="#b07a55" fill-opacity="0.25"/><circle cx="384.0" cy="194.4" r="0.51" fill="#4e3528" fill-opacity="0.85"/><circle cx="465.2" cy="212.0" r="1.47" fill="#b07a55" fill-opacity="0.27"/><circle cx="465.5" cy="212.1" r="0.60" fill="#4e3528" fill-opacity="0.57"/><circle cx="362.7" cy="225.5" r="1.05" fill="#b07a55" fill-opacity="0.20"/><circle cx="362.4" cy="225.5" r="0.58" fill="#4e3528" fill-opacity="0.57"/><circle cx="407.6" cy="223.9" r="1.42" fill="#b07a55" fill-opacity="0.18"/><circle cx="407.9" cy="224.0" r="0.88" fill="#4e3528" fill-opacity="0.69"/><circle cx="438.5" cy="243.6" r="1.45" fill="#b07a55" fill-opacity="0.28"/><circle cx="438.1" cy="244.0" r="0.58" fill="#4e3528" fill-opacity="0.61"/><circle cx="386.4" cy="221.5" r="1.12" fill="#b07a55" fill-opacity="0.27"/><circle cx="386.4" cy="221.5" r="0.92" fill="#4e3528" fill-opacity="0.61"/><circle cx="490.4" cy="196.5" r="1.46" fill="#b07a55" fill-opacity="0.26"/><circle cx="490.8" cy="196.2" r="0.49" fill="#4e3528" fill-opacity="0.70"/><circle cx="505.5" cy="212.4" r="1.42" fill="#b07a55" fill-opacity="0.16"/><circle cx="505.2" cy="212.1" r="0.78" fill="#4e3528" fill-opacity="0.71"/><circle cx="464.5" cy="264.5" r="1.37" fill="#b07a55" fill-opacity="0.24"/><circle cx="464.6" cy="264.3" r="0.49" fill="#4e3528" fill-opacity="0.69"/><circle cx="432.3" cy="194.1" r="1.32" fill="#b07a55" fill-opacity="0.22"/><circle cx="432.0" cy="194.1" r="0.69" fill="#4e3528" fill-opacity="0.70"/><circle cx="443.1" cy="187.4" r="1.08" fill="#b07a55" fill-opacity="0.21"/><circle cx="443.5" cy="187.8" r="0.80" fill="#4e3528" fill-opacity="0.88"/><circle cx="494.5" cy="273.0" r="0.91" fill="#b07a55" fill-opacity="0.23"/><circle cx="494.7" cy="273.1" r="0.75" fill="#4e3528" fill-opacity="0.73"/><circle cx="360.9" cy="228.6" r="1.48" fill="#b07a55" fill-opacity="0.16"/><circle cx="361.2" cy="228.9" r="0.51" fill="#4e3528" fill-opacity="0.46"/><circle cx="466.4" cy="235.3" r="1.21" fill="#b07a55" fill-opacity="0.25"/><circle cx="466.6" cy="234.9" r="0.83" fill="#4e3528" fill-opacity="0.48"/><circle cx="514.7" cy="262.2" r="1.14" fill="#b07a55" fill-opacity="0.21"/><circle cx="514.4" cy="262.4" r="0.62" fill="#4e3528" fill-opacity="0.57"/><circle cx="437.0" cy="208.9" r="1.30" fill="#b07a55" fill-opacity="0.23"/><circle cx="437.3" cy="208.6" r="0.57" fill="#4e3528" fill-opacity="0.52"/><circle cx="427.0" cy="242.7" r="1.10" fill="#b07a55" fill-opacity="0.19"/><circle cx="426.8" cy="242.8" r="0.78" fill="#4e3528" fill-opacity="0.56"/><circle cx="377.9" cy="197.8" r="1.08" fill="#b07a55" fill-opacity="0.21"/><circle cx="378.1" cy="198.1" r="0.81" fill="#4e3528" fill-opacity="0.69"/><circle cx="457.0" cy="208.1" r="1.03" fill="#b07a55" fill-opacity="0.22"/><circle cx="456.9" cy="207.9" r="0.94" fill="#4e3528" fill-opacity="0.86"/><circle cx="413.0" cy="187.5" r="1.37" fill="#b07a55" fill-opacity="0.28"/><circle cx="413.2" cy="187.4" r="0.62" fill="#4e3528" fill-opacity="0.58"/><circle cx="474.3" cy="223.9" r="1.39" fill="#b07a55" fill-opacity="0.15"/><circle cx="474.2" cy="223.6" r="0.70" fill="#4e3528" fill-opacity="0.86"/><circle cx="399.0" cy="252.0" r="1.48" fill="#b07a55" fill-opacity="0.31"/><circle cx="399.4" cy="251.7" r="0.62" fill="#4e3528" fill-opacity="0.77"/><circle cx="379.3" cy="187.5" r="1.31" fill="#b07a55" fill-opacity="0.30"/><circle cx="379.7" cy="187.5" r="0.81" fill="#4e3528" fill-opacity="0.62"/><circle cx="407.1" cy="260.2" r="0.94" fill="#b07a55" fill-opacity="0.18"/><circle cx="406.7" cy="260.0" r="0.62" fill="#4e3528" fill-opacity="0.53"/><circle cx="431.3" cy="225.7" r="1.24" fill="#b07a55" fill-opacity="0.28"/><circle cx="431.6" cy="225.3" r="0.71" fill="#4e3528" fill-opacity="0.55"/><circle cx="411.0" cy="240.8" r="1.45" fill="#b07a55" fill-opacity="0.24"/><circle cx="410.9" cy="240.9" r="0.53" fill="#4e3528" fill-opacity="0.58"/><circle cx="514.3" cy="222.2" r="1.26" fill="#b07a55" fill-opacity="0.29"/><circle cx="514.0" cy="222.5" r="0.68" fill="#4e3528" fill-opacity="0.89"/><circle cx="456.9" cy="217.9" r="0.93" fill="#b07a55" fill-opacity="0.18"/><circle cx="457.1" cy="217.6" r="0.54" fill="#4e3528" fill-opacity="0.46"/><circle cx="461.9" cy="223.3" r="1.29" fill="#b07a55" fill-opacity="0.23"/><circle cx="461.5" cy="223.1" r="0.54" fill="#4e3528" fill-opacity="0.47"/><circle cx="440.3" cy="216.1" r="1.18" fill="#b07a55" fill-opacity="0.26"/><circle cx="440.1" cy="216.4" r="0.61" fill="#4e3528" fill-opacity="0.71"/><circle cx="439.4" cy="222.3" r="1.10" fill="#b07a55" fill-opacity="0.31"/><circle cx="439.8" cy="222.5" r="0.57" fill="#4e3528" fill-opacity="0.85"/><circle cx="429.6" cy="270.0" r="1.07" fill="#b07a55" fill-opacity="0.18"/><circle cx="429.4" cy="270.1" r="0.81" fill="#4e3528" fill-opacity="0.52"/><circle cx="395.1" cy="183.4" r="1.31" fill="#b07a55" fill-opacity="0.21"/><circle cx="395.1" cy="183.7" r="0.73" fill="#4e3528" fill-opacity="0.68"/><circle cx="346.3" cy="226.1" r="1.06" fill="#b07a55" fill-opacity="0.25"/><circle cx="346.3" cy="225.8" r="0.77" fill="#4e3528" fill-opacity="0.67"/><circle cx="456.9" cy="276.8" r="1.07" fill="#b07a55" fill-opacity="0.23"/><circle cx="457.2" cy="276.6" r="0.49" fill="#4e3528" fill-opacity="0.82"/><circle cx="390.1" cy="269.6" r="1.20" fill="#b07a55" fill-opacity="0.22"/><circle cx="390.4" cy="269.6" r="0.73" fill="#4e3528" fill-opacity="0.67"/><circle cx="468.2" cy="223.5" r="1.11" fill="#b07a55" fill-opacity="0.18"/><circle cx="468.4" cy="223.8" r="0.56" fill="#4e3528" fill-opacity="0.89"/><circle cx="464.5" cy="258.3" r="1.33" fill="#b07a55" fill-opacity="0.29"/><circle cx="464.3" cy="258.6" r="0.85" fill="#4e3528" fill-opacity="0.59"/><circle cx="482.8" cy="183.7" r="1.21" fill="#b07a55" fill-opacity="0.21"/><circle cx="482.9" cy="184.1" r="0.85" fill="#4e3528" fill-opacity="0.87"/><circle cx="357.2" cy="244.4" r="0.97" fill="#b07a55" fill-opacity="0.32"/><circle cx="357.0" cy="244.1" r="0.89" fill="#4e3528" fill-opacity="0.76"/><circle cx="516.4" cy="239.6" r="0.98" fill="#b07a55" fill-opacity="0.27"/><circle cx="516.7" cy="239.9" r="0.48" fill="#4e3528" fill-opacity="0.80"/><circle cx="444.5" cy="273.9" r="1.28" fill="#b07a55" fill-opacity="0.23"/><circle cx="444.3" cy="273.6" r="0.64" fill="#4e3528" fill-opacity="0.52"/><circle cx="385.6" cy="242.9" r="1.37" fill="#b07a55" fill-opacity="0.27"/><circle cx="385.4" cy="242.8" r="0.71" fill="#4e3528" fill-opacity="0.53"/><circle cx="464.7" cy="273.8" r="1.10" fill="#b07a55" fill-opacity="0.31"/><circle cx="464.6" cy="274.2" r="0.91" fill="#4e3528" fill-opacity="0.73"/><circle cx="479.9" cy="208.7" r="1.07" fill="#b07a55" fill-opacity="0.24"/><circle cx="479.6" cy="209.0" r="0.69" fill="#4e3528" fill-opacity="0.69"/><circle cx="474.8" cy="199.7" r="1.02" fill="#b07a55" fill-opacity="0.25"/><circle cx="474.7" cy="199.4" r="0.57" fill="#4e3528" fill-opacity="0.47"/><circle cx="437.2" cy="274.5" r="1.28" fill="#b07a55" fill-opacity="0.22"/><circle cx="436.9" cy="274.5" r="0.65" fill="#4e3528" fill-opacity="0.88"/><circle cx="422.9" cy="235.1" r="1.36" fill="#b07a55" fill-opacity="0.24"/><circle cx="423.3" cy="235.4" r="0.77" fill="#4e3528" fill-opacity="0.56"/><circle cx="518.5" cy="229.5" r="1.01" fill="#b07a55" fill-opacity="0.28"/><circle cx="518.3" cy="229.5" r="0.48" fill="#4e3528" fill-opacity="0.57"/><circle cx="471.7" cy="207.2" r="1.36" fill="#b07a55" fill-opacity="0.26"/><circle cx="471.7" cy="207.1" r="0.80" fill="#4e3528" fill-opacity="0.50"/><circle cx="426.6" cy="262.9" r="1.54" fill="#2e2018" fill-opacity="0.76"/><circle cx="377.2" cy="209.8" r="1.45" fill="#2e2018" fill-opacity="0.84"/><circle cx="387.8" cy="219.3" r="1.39" fill="#2e2018" fill-opacity="0.90"/><circle cx="420.2" cy="232.6" r="1.44" fill="#2e2018" fill-opacity="0.87"/><circle cx="371.2" cy="236.9" r="1.16" fill="#2e2018" fill-opacity="0.76"/><circle cx="426.5" cy="182.2" r="1.14" fill="#2e2018" fill-opacity="0.83"/><circle cx="426.0" cy="196.0" r="1.58" fill="#2e2018" fill-opacity="0.92"/><circle cx="427.6" cy="228.6" r="1.26" fill="#2e2018" fill-opacity="0.95"/><circle cx="386.5" cy="212.1" r="1.21" fill="#2e2018" fill-opacity="0.92"/><circle cx="429.6" cy="218.4" r="1.30" fill="#2e2018" fill-opacity="0.93"/></g>
</g>
<rect x="349.9" y="270.9" width="23.6" height="7.1" fill="#fff" stroke="#333" stroke-width="0.9"/>
<text x="361.7" y="276.7" font-size="5.9" text-anchor="middle" fill="#333" style="stroke-width:0.05px">100 µm</text>
<g clip-path="url(#clipB)">
<rect x="345" y="305" width="175" height="109.6" fill="#d8dde9"/>
<rect x="345" y="305" width="175" height="109.6" fill="#fff" filter="url(#motB)"/>
<rect x="345" y="305" width="175" height="109.6" fill="#fff" filter="url(#motC)"/>
<path d="M345 305L351 305L350 340L348 370L345 385Z" fill="#eef0f4" fill-opacity="0.3"/>
<path d="M353 305L405 305C402 308.5 397 311.5 391 313.5C383 316 373 317 365 315C359 313 356 309.5 353 305Z" fill="#eff0f3"/>
<ellipse cx="385.0" cy="339.0" rx="13.0" ry="9.1" fill="url(#brg)"/>
<ellipse cx="401.0" cy="342.0" rx="11.7" ry="9.1" fill="url(#brg)"/>
<ellipse cx="381.0" cy="357.0" rx="10.4" ry="7.8" fill="url(#brg)"/>
<ellipse cx="397.0" cy="352.0" rx="11.7" ry="9.1" fill="url(#brg)"/>
<ellipse cx="414.0" cy="357.0" rx="10.4" ry="7.8" fill="url(#brg)"/>
<ellipse cx="424.0" cy="385.0" rx="10.4" ry="6.5" fill="url(#brg)"/>
<ellipse cx="438.0" cy="390.0" rx="9.1" ry="5.2" fill="url(#brg)"/>
<ellipse cx="480.0" cy="376.0" rx="13.0" ry="7.8" fill="url(#brg)"/>
<ellipse cx="395.0" cy="322.0" rx="6.5" ry="3.9" fill="url(#brg)"/>
<ellipse cx="365.0" cy="324.0" rx="5.2" ry="2.6" fill="url(#brg)"/>
<g filter="url(#soft)"><circle cx="393.7" cy="335.9" r="0.80" fill="#6b4028" fill-opacity="0.36"/><circle cx="382.9" cy="343.0" r="0.56" fill="#8a5a3a" fill-opacity="0.47"/><circle cx="392.8" cy="339.5" r="0.81" fill="#6b4028" fill-opacity="0.39"/><circle cx="383.4" cy="334.6" r="0.63" fill="#9a7058" fill-opacity="0.51"/><circle cx="393.3" cy="341.2" r="0.67" fill="#8a5a3a" fill-opacity="0.63"/><circle cx="390.9" cy="338.2" r="0.74" fill="#3a2010" fill-opacity="0.79"/><circle cx="383.1" cy="345.8" r="0.66" fill="#9a7058" fill-opacity="0.43"/><circle cx="376.2" cy="339.7" r="0.70" fill="#8a5a3a" fill-opacity="0.43"/><circle cx="387.5" cy="342.6" r="0.77" fill="#8a5a3a" fill-opacity="0.61"/><circle cx="390.7" cy="341.3" r="0.66" fill="#3a2010" fill-opacity="0.72"/><circle cx="382.0" cy="342.7" r="0.53" fill="#3a2010" fill-opacity="0.75"/><circle cx="380.5" cy="339.9" r="0.47" fill="#6b4028" fill-opacity="0.67"/><circle cx="387.3" cy="336.0" r="0.65" fill="#6b4028" fill-opacity="0.78"/><circle cx="389.9" cy="345.0" r="0.43" fill="#9a7058" fill-opacity="0.53"/><circle cx="387.5" cy="341.8" r="0.41" fill="#8a5a3a" fill-opacity="0.71"/><circle cx="392.0" cy="337.4" r="0.84" fill="#6b4028" fill-opacity="0.51"/><circle cx="391.1" cy="338.3" r="0.49" fill="#6b4028" fill-opacity="0.47"/><circle cx="376.7" cy="337.2" r="0.61" fill="#3a2010" fill-opacity="0.45"/><circle cx="390.8" cy="342.1" r="0.48" fill="#8a5a3a" fill-opacity="0.46"/><circle cx="376.6" cy="342.1" r="0.60" fill="#3a2010" fill-opacity="0.65"/><circle cx="381.5" cy="340.5" r="0.68" fill="#9a7058" fill-opacity="0.38"/><circle cx="394.2" cy="337.4" r="0.74" fill="#3a2010" fill-opacity="0.54"/><circle cx="382.2" cy="345.2" r="0.67" fill="#6b4028" fill-opacity="0.72"/><circle cx="391.2" cy="342.5" r="0.55" fill="#9a7058" fill-opacity="0.46"/><circle cx="387.7" cy="338.4" r="0.65" fill="#6b4028" fill-opacity="0.46"/><circle cx="378.6" cy="337.2" r="0.60" fill="#3a2010" fill-opacity="0.35"/><circle cx="395.3" cy="346.3" r="0.46" fill="#9a7058" fill-opacity="0.44"/><circle cx="399.4" cy="339.4" r="0.60" fill="#9a7058" fill-opacity="0.78"/><circle cx="396.8" cy="343.8" r="0.67" fill="#8a5a3a" fill-opacity="0.59"/><circle cx="398.5" cy="348.3" r="0.44" fill="#6b4028" fill-opacity="0.74"/><circle cx="393.1" cy="342.1" r="0.70" fill="#9a7058" fill-opacity="0.48"/><circle cx="398.7" cy="345.7" r="0.54" fill="#3a2010" fill-opacity="0.42"/><circle cx="409.2" cy="343.8" r="0.70" fill="#3a2010" fill-opacity="0.59"/><circle cx="399.0" cy="338.0" r="0.80" fill="#8a5a3a" fill-opacity="0.58"/><circle cx="405.7" cy="345.0" r="0.45" fill="#9a7058" fill-opacity="0.35"/><circle cx="408.7" cy="343.4" r="0.45" fill="#9a7058" fill-opacity="0.37"/><circle cx="402.7" cy="338.6" r="0.56" fill="#8a5a3a" fill-opacity="0.63"/><circle cx="401.7" cy="339.1" r="0.63" fill="#3a2010" fill-opacity="0.48"/><circle cx="408.6" cy="345.2" r="0.69" fill="#8a5a3a" fill-opacity="0.37"/><circle cx="406.7" cy="346.1" r="0.84" fill="#8a5a3a" fill-opacity="0.62"/><circle cx="405.9" cy="346.6" r="0.61" fill="#3a2010" fill-opacity="0.61"/><circle cx="402.1" cy="335.7" r="0.67" fill="#6b4028" fill-opacity="0.50"/><circle cx="402.8" cy="343.6" r="0.79" fill="#8a5a3a" fill-opacity="0.79"/><circle cx="408.8" cy="341.7" r="0.50" fill="#9a7058" fill-opacity="0.65"/><circle cx="396.9" cy="341.4" r="0.65" fill="#3a2010" fill-opacity="0.56"/><circle cx="396.3" cy="336.2" r="0.69" fill="#3a2010" fill-opacity="0.52"/><circle cx="402.2" cy="335.7" r="0.42" fill="#9a7058" fill-opacity="0.51"/><circle cx="402.8" cy="347.5" r="0.47" fill="#3a2010" fill-opacity="0.53"/><circle cx="405.7" cy="343.4" r="0.59" fill="#8a5a3a" fill-opacity="0.62"/><circle cx="377.6" cy="358.5" r="0.54" fill="#3a2010" fill-opacity="0.55"/><circle cx="384.4" cy="361.8" r="0.66" fill="#6b4028" fill-opacity="0.59"/><circle cx="377.3" cy="354.3" r="0.67" fill="#9a7058" fill-opacity="0.79"/><circle cx="378.2" cy="353.7" r="0.43" fill="#6b4028" fill-opacity="0.53"/><circle cx="379.6" cy="358.0" r="0.42" fill="#9a7058" fill-opacity="0.51"/><circle cx="387.1" cy="355.3" r="0.84" fill="#3a2010" fill-opacity="0.67"/><circle cx="385.9" cy="361.7" r="0.74" fill="#9a7058" fill-opacity="0.59"/><circle cx="382.5" cy="358.1" r="0.61" fill="#8a5a3a" fill-opacity="0.79"/><circle cx="381.8" cy="355.0" r="0.41" fill="#8a5a3a" fill-opacity="0.59"/><circle cx="382.5" cy="360.3" r="0.84" fill="#3a2010" fill-opacity="0.67"/><circle cx="374.1" cy="359.4" r="0.82" fill="#3a2010" fill-opacity="0.50"/><circle cx="380.7" cy="354.2" r="0.70" fill="#8a5a3a" fill-opacity="0.38"/><circle cx="381.6" cy="354.8" r="0.82" fill="#3a2010" fill-opacity="0.79"/><circle cx="386.6" cy="360.5" r="0.44" fill="#6b4028" fill-opacity="0.78"/><circle cx="386.4" cy="357.9" r="0.82" fill="#6b4028" fill-opacity="0.58"/><circle cx="380.2" cy="361.5" r="0.85" fill="#6b4028" fill-opacity="0.74"/><circle cx="383.2" cy="361.9" r="0.73" fill="#6b4028" fill-opacity="0.65"/><circle cx="385.9" cy="361.0" r="0.62" fill="#8a5a3a" fill-opacity="0.47"/><circle cx="403.2" cy="349.6" r="0.57" fill="#6b4028" fill-opacity="0.61"/><circle cx="389.8" cy="349.3" r="0.69" fill="#8a5a3a" fill-opacity="0.42"/><circle cx="404.2" cy="352.5" r="0.82" fill="#9a7058" fill-opacity="0.35"/><circle cx="390.9" cy="352.1" r="0.53" fill="#6b4028" fill-opacity="0.72"/><circle cx="399.1" cy="358.1" r="0.76" fill="#8a5a3a" fill-opacity="0.42"/><circle cx="400.1" cy="346.8" r="0.45" fill="#9a7058" fill-opacity="0.69"/><circle cx="398.2" cy="354.7" r="0.70" fill="#8a5a3a" fill-opacity="0.73"/><circle cx="396.3" cy="357.4" r="0.77" fill="#8a5a3a" fill-opacity="0.40"/><circle cx="394.9" cy="352.8" r="0.70" fill="#9a7058" fill-opacity="0.79"/><circle cx="397.3" cy="349.8" r="0.51" fill="#3a2010" fill-opacity="0.63"/><circle cx="393.3" cy="353.5" r="0.65" fill="#8a5a3a" fill-opacity="0.50"/><circle cx="388.8" cy="349.3" r="0.44" fill="#8a5a3a" fill-opacity="0.68"/><circle cx="400.9" cy="356.3" r="0.69" fill="#6b4028" fill-opacity="0.55"/><circle cx="405.2" cy="354.2" r="0.52" fill="#8a5a3a" fill-opacity="0.56"/><circle cx="398.0" cy="348.0" r="0.44" fill="#9a7058" fill-opacity="0.76"/><circle cx="397.7" cy="349.8" r="0.64" fill="#9a7058" fill-opacity="0.52"/><circle cx="396.6" cy="349.1" r="0.80" fill="#6b4028" fill-opacity="0.36"/><circle cx="402.0" cy="347.2" r="0.71" fill="#6b4028" fill-opacity="0.73"/><circle cx="393.4" cy="347.1" r="0.78" fill="#3a2010" fill-opacity="0.78"/><circle cx="391.2" cy="347.0" r="0.46" fill="#3a2010" fill-opacity="0.41"/><circle cx="396.0" cy="357.1" r="0.67" fill="#9a7058" fill-opacity="0.65"/><circle cx="399.0" cy="355.3" r="0.73" fill="#8a5a3a" fill-opacity="0.72"/><circle cx="403.2" cy="348.1" r="0.65" fill="#9a7058" fill-opacity="0.57"/><circle cx="413.6" cy="355.6" r="0.59" fill="#6b4028" fill-opacity="0.47"/><circle cx="418.7" cy="360.1" r="0.50" fill="#3a2010" fill-opacity="0.54"/><circle cx="417.0" cy="355.0" r="0.44" fill="#3a2010" fill-opacity="0.47"/><circle cx="421.1" cy="354.4" r="0.71" fill="#8a5a3a" fill-opacity="0.57"/><circle cx="411.0" cy="361.7" r="0.58" fill="#3a2010" fill-opacity="0.59"/><circle cx="407.7" cy="354.1" r="0.42" fill="#9a7058" fill-opacity="0.75"/><circle cx="408.2" cy="354.2" r="0.43" fill="#8a5a3a" fill-opacity="0.40"/><circle cx="417.9" cy="359.6" r="0.79" fill="#3a2010" fill-opacity="0.43"/><circle cx="418.0" cy="355.0" r="0.53" fill="#9a7058" fill-opacity="0.76"/><circle cx="417.6" cy="357.0" r="0.65" fill="#9a7058" fill-opacity="0.76"/><circle cx="413.9" cy="353.8" r="0.63" fill="#8a5a3a" fill-opacity="0.68"/><circle cx="418.0" cy="352.5" r="0.64" fill="#6b4028" fill-opacity="0.41"/><circle cx="418.8" cy="357.3" r="0.75" fill="#9a7058" fill-opacity="0.70"/><circle cx="411.1" cy="356.4" r="0.72" fill="#6b4028" fill-opacity="0.48"/><circle cx="415.1" cy="354.5" r="0.54" fill="#9a7058" fill-opacity="0.61"/><circle cx="414.4" cy="351.6" r="0.52" fill="#9a7058" fill-opacity="0.43"/><circle cx="410.0" cy="354.4" r="0.76" fill="#6b4028" fill-opacity="0.67"/><circle cx="421.3" cy="354.7" r="0.79" fill="#6b4028" fill-opacity="0.78"/><circle cx="426.3" cy="383.4" r="0.77" fill="#8a5a3a" fill-opacity="0.45"/><circle cx="430.6" cy="385.2" r="0.63" fill="#9a7058" fill-opacity="0.39"/><circle cx="425.6" cy="387.0" r="0.81" fill="#6b4028" fill-opacity="0.71"/><circle cx="425.7" cy="384.2" r="0.41" fill="#8a5a3a" fill-opacity="0.52"/><circle cx="423.9" cy="384.2" r="0.59" fill="#3a2010" fill-opacity="0.61"/><circle cx="429.0" cy="381.9" r="0.80" fill="#8a5a3a" fill-opacity="0.47"/><circle cx="424.4" cy="383.2" r="0.44" fill="#8a5a3a" fill-opacity="0.40"/><circle cx="431.8" cy="385.0" r="0.78" fill="#9a7058" fill-opacity="0.59"/><circle cx="418.3" cy="385.1" r="0.76" fill="#6b4028" fill-opacity="0.74"/><circle cx="420.9" cy="384.3" r="0.54" fill="#9a7058" fill-opacity="0.73"/><circle cx="429.1" cy="385.0" r="0.54" fill="#6b4028" fill-opacity="0.50"/><circle cx="429.2" cy="383.5" r="0.78" fill="#8a5a3a" fill-opacity="0.57"/><circle cx="430.1" cy="387.3" r="0.78" fill="#3a2010" fill-opacity="0.64"/><circle cx="420.4" cy="381.3" r="0.53" fill="#8a5a3a" fill-opacity="0.54"/><circle cx="423.1" cy="384.2" r="0.43" fill="#3a2010" fill-opacity="0.53"/><circle cx="432.8" cy="388.5" r="0.81" fill="#8a5a3a" fill-opacity="0.61"/><circle cx="440.2" cy="389.0" r="0.49" fill="#6b4028" fill-opacity="0.59"/><circle cx="432.6" cy="391.0" r="0.62" fill="#6b4028" fill-opacity="0.52"/><circle cx="443.2" cy="392.0" r="0.81" fill="#6b4028" fill-opacity="0.50"/><circle cx="442.9" cy="389.3" r="0.57" fill="#3a2010" fill-opacity="0.78"/><circle cx="438.8" cy="391.5" r="0.46" fill="#8a5a3a" fill-opacity="0.72"/><circle cx="433.9" cy="392.4" r="0.82" fill="#9a7058" fill-opacity="0.42"/><circle cx="437.8" cy="389.4" r="0.49" fill="#9a7058" fill-opacity="0.45"/><circle cx="438.8" cy="392.3" r="0.61" fill="#6b4028" fill-opacity="0.61"/><circle cx="432.4" cy="388.8" r="0.48" fill="#9a7058" fill-opacity="0.69"/><circle cx="477.0" cy="376.6" r="0.56" fill="#9a7058" fill-opacity="0.50"/><circle cx="480.4" cy="370.5" r="0.83" fill="#3a2010" fill-opacity="0.50"/><circle cx="480.9" cy="375.5" r="0.66" fill="#9a7058" fill-opacity="0.48"/><circle cx="483.4" cy="373.9" r="0.44" fill="#6b4028" fill-opacity="0.78"/><circle cx="489.3" cy="377.8" r="0.44" fill="#6b4028" fill-opacity="0.60"/><circle cx="482.4" cy="380.1" r="0.55" fill="#3a2010" fill-opacity="0.62"/><circle cx="484.5" cy="378.4" r="0.46" fill="#8a5a3a" fill-opacity="0.77"/><circle cx="483.2" cy="378.7" r="0.52" fill="#3a2010" fill-opacity="0.67"/><circle cx="484.1" cy="374.4" r="0.67" fill="#9a7058" fill-opacity="0.59"/><circle cx="479.5" cy="378.6" r="0.79" fill="#9a7058" fill-opacity="0.63"/><circle cx="473.2" cy="379.2" r="0.54" fill="#8a5a3a" fill-opacity="0.53"/><circle cx="472.4" cy="376.8" r="0.76" fill="#6b4028" fill-opacity="0.35"/><circle cx="482.7" cy="374.0" r="0.79" fill="#8a5a3a" fill-opacity="0.80"/><circle cx="479.1" cy="372.3" r="0.81" fill="#3a2010" fill-opacity="0.70"/><circle cx="479.8" cy="379.6" r="0.49" fill="#9a7058" fill-opacity="0.42"/><circle cx="475.0" cy="377.6" r="0.50" fill="#6b4028" fill-opacity="0.67"/><circle cx="473.0" cy="378.7" r="0.81" fill="#9a7058" fill-opacity="0.67"/><circle cx="478.0" cy="374.8" r="0.83" fill="#8a5a3a" fill-opacity="0.67"/><circle cx="485.2" cy="376.4" r="0.51" fill="#6b4028" fill-opacity="0.42"/><circle cx="475.4" cy="374.2" r="0.45" fill="#8a5a3a" fill-opacity="0.56"/><circle cx="484.3" cy="372.7" r="0.77" fill="#9a7058" fill-opacity="0.57"/><circle cx="479.2" cy="370.4" r="0.70" fill="#3a2010" fill-opacity="0.57"/><circle cx="397.1" cy="322.7" r="0.71" fill="#8a5a3a" fill-opacity="0.66"/><circle cx="392.2" cy="324.2" r="0.74" fill="#6b4028" fill-opacity="0.47"/><circle cx="393.3" cy="319.8" r="0.78" fill="#6b4028" fill-opacity="0.77"/><circle cx="394.6" cy="320.7" r="0.66" fill="#8a5a3a" fill-opacity="0.56"/><circle cx="390.2" cy="321.4" r="0.80" fill="#8a5a3a" fill-opacity="0.71"/><circle cx="366.3" cy="323.0" r="0.67" fill="#8a5a3a" fill-opacity="0.49"/><circle cx="368.9" cy="324.1" r="0.76" fill="#8a5a3a" fill-opacity="0.42"/><circle cx="363.3" cy="322.8" r="0.64" fill="#9a7058" fill-opacity="0.65"/><circle cx="368.1" cy="336.5" r="0.55" fill="#3a2418" fill-opacity="0.79"/><circle cx="390.4" cy="332.1" r="0.74" fill="#3a2418" fill-opacity="0.79"/><circle cx="377.3" cy="347.5" r="0.73" fill="#3a2418" fill-opacity="0.69"/><circle cx="394.8" cy="345.6" r="0.57" fill="#3a2418" fill-opacity="0.55"/><circle cx="388.8" cy="344.8" r="0.68" fill="#3a2418" fill-opacity="0.59"/><circle cx="401.8" cy="338.0" r="0.54" fill="#3a2418" fill-opacity="0.79"/><circle cx="383.9" cy="348.3" r="0.70" fill="#3a2418" fill-opacity="0.63"/><circle cx="376.9" cy="334.4" r="0.62" fill="#3a2418" fill-opacity="0.84"/><circle cx="394.9" cy="331.6" r="0.69" fill="#3a2418" fill-opacity="0.66"/><circle cx="398.4" cy="336.7" r="0.85" fill="#3a2418" fill-opacity="0.65"/><circle cx="408.7" cy="343.7" r="0.68" fill="#3a2418" fill-opacity="0.61"/><circle cx="388.7" cy="337.7" r="0.75" fill="#3a2418" fill-opacity="0.66"/><circle cx="411.3" cy="342.3" r="0.80" fill="#3a2418" fill-opacity="0.67"/><circle cx="390.5" cy="352.3" r="0.76" fill="#3a2418" fill-opacity="0.50"/><circle cx="387.3" cy="335.5" r="0.77" fill="#3a2418" fill-opacity="0.53"/><circle cx="380.2" cy="351.8" r="0.58" fill="#3a2418" fill-opacity="0.74"/><circle cx="396.0" cy="356.6" r="0.73" fill="#3a2418" fill-opacity="0.80"/><circle cx="370.9" cy="362.5" r="0.66" fill="#3a2418" fill-opacity="0.52"/><circle cx="387.8" cy="354.9" r="0.55" fill="#3a2418" fill-opacity="0.71"/><circle cx="378.1" cy="363.0" r="0.53" fill="#3a2418" fill-opacity="0.61"/><circle cx="386.2" cy="353.9" r="0.78" fill="#3a2418" fill-opacity="0.81"/><circle cx="385.3" cy="345.6" r="0.70" fill="#3a2418" fill-opacity="0.59"/><circle cx="397.5" cy="344.5" r="0.78" fill="#3a2418" fill-opacity="0.78"/><circle cx="383.8" cy="358.8" r="0.58" fill="#3a2418" fill-opacity="0.68"/><circle cx="394.6" cy="362.1" r="0.51" fill="#3a2418" fill-opacity="0.83"/><circle cx="386.6" cy="350.4" r="0.60" fill="#3a2418" fill-opacity="0.58"/><circle cx="403.7" cy="341.3" r="0.81" fill="#3a2418" fill-opacity="0.80"/><circle cx="388.1" cy="352.3" r="0.80" fill="#3a2418" fill-opacity="0.71"/><circle cx="415.6" cy="351.6" r="0.74" fill="#3a2418" fill-opacity="0.56"/><circle cx="417.3" cy="363.2" r="0.74" fill="#3a2418" fill-opacity="0.64"/><circle cx="403.9" cy="359.9" r="0.70" fill="#3a2418" fill-opacity="0.64"/><circle cx="414.6" cy="349.0" r="0.61" fill="#3a2418" fill-opacity="0.62"/><circle cx="402.1" cy="363.8" r="0.59" fill="#3a2418" fill-opacity="0.54"/><circle cx="411.7" cy="365.8" r="0.51" fill="#3a2418" fill-opacity="0.61"/><circle cx="435.0" cy="380.7" r="0.66" fill="#3a2418" fill-opacity="0.76"/><circle cx="419.3" cy="391.2" r="0.60" fill="#3a2418" fill-opacity="0.73"/><circle cx="427.7" cy="388.9" r="0.65" fill="#3a2418" fill-opacity="0.56"/><circle cx="421.0" cy="393.6" r="0.56" fill="#3a2418" fill-opacity="0.71"/><circle cx="417.2" cy="391.0" r="0.68" fill="#3a2418" fill-opacity="0.84"/><circle cx="412.5" cy="388.5" r="0.58" fill="#3a2418" fill-opacity="0.79"/><circle cx="444.2" cy="385.6" r="0.56" fill="#3a2418" fill-opacity="0.55"/><circle cx="438.0" cy="386.6" r="0.84" fill="#3a2418" fill-opacity="0.83"/><circle cx="442.9" cy="394.4" r="0.50" fill="#3a2418" fill-opacity="0.64"/><circle cx="442.2" cy="395.0" r="0.56" fill="#3a2418" fill-opacity="0.80"/><circle cx="443.2" cy="387.8" r="0.51" fill="#3a2418" fill-opacity="0.76"/><circle cx="468.4" cy="371.7" r="0.71" fill="#3a2418" fill-opacity="0.77"/><circle cx="478.3" cy="386.2" r="0.59" fill="#3a2418" fill-opacity="0.83"/><circle cx="465.0" cy="376.5" r="0.53" fill="#3a2418" fill-opacity="0.75"/><circle cx="464.6" cy="371.1" r="0.54" fill="#3a2418" fill-opacity="0.60"/><circle cx="481.1" cy="370.2" r="0.61" fill="#3a2418" fill-opacity="0.82"/><circle cx="466.9" cy="371.0" r="0.53" fill="#3a2418" fill-opacity="0.50"/><circle cx="479.3" cy="367.2" r="0.59" fill="#3a2418" fill-opacity="0.67"/><circle cx="470.9" cy="376.7" r="0.62" fill="#3a2418" fill-opacity="0.54"/><circle cx="386.2" cy="323.0" r="0.63" fill="#3a2418" fill-opacity="0.63"/><circle cx="392.2" cy="319.1" r="0.80" fill="#3a2418" fill-opacity="0.63"/><circle cx="394.0" cy="319.2" r="0.57" fill="#3a2418" fill-opacity="0.77"/><circle cx="391.4" cy="325.2" r="0.57" fill="#3a2418" fill-opacity="0.53"/><circle cx="359.5" cy="324.9" r="0.58" fill="#3a2418" fill-opacity="0.80"/><circle cx="360.8" cy="322.8" r="0.54" fill="#3a2418" fill-opacity="0.76"/><circle cx="363.3" cy="321.9" r="0.80" fill="#3a2418" fill-opacity="0.53"/><circle cx="401.3" cy="317.1" r="0.54" fill="#5a3420" fill-opacity="0.56"/><circle cx="348.1" cy="384.8" r="0.65" fill="#5a3420" fill-opacity="0.30"/><circle cx="439.8" cy="380.8" r="0.57" fill="#5a3420" fill-opacity="0.57"/><circle cx="375.5" cy="340.5" r="0.70" fill="#5a3420" fill-opacity="0.33"/><circle cx="421.1" cy="332.2" r="0.69" fill="#5a3420" fill-opacity="0.47"/><circle cx="388.6" cy="404.4" r="0.52" fill="#5a3420" fill-opacity="0.33"/><circle cx="481.2" cy="395.5" r="0.44" fill="#5a3420" fill-opacity="0.58"/><circle cx="478.7" cy="373.6" r="0.74" fill="#5a3420" fill-opacity="0.59"/><circle cx="450.9" cy="383.2" r="0.77" fill="#5a3420" fill-opacity="0.65"/><circle cx="486.5" cy="376.2" r="0.53" fill="#5a3420" fill-opacity="0.31"/><circle cx="467.7" cy="387.3" r="0.43" fill="#5a3420" fill-opacity="0.51"/><circle cx="350.5" cy="373.1" r="0.67" fill="#5a3420" fill-opacity="0.54"/><circle cx="451.4" cy="410.2" r="0.46" fill="#5a3420" fill-opacity="0.61"/><circle cx="384.0" cy="361.9" r="0.43" fill="#5a3420" fill-opacity="0.66"/><circle cx="348.3" cy="335.9" r="0.67" fill="#5a3420" fill-opacity="0.50"/><circle cx="353.3" cy="330.3" r="0.53" fill="#5a3420" fill-opacity="0.36"/><circle cx="469.3" cy="404.3" r="0.76" fill="#5a3420" fill-opacity="0.62"/><circle cx="490.8" cy="379.4" r="0.66" fill="#5a3420" fill-opacity="0.59"/><circle cx="483.9" cy="346.2" r="0.49" fill="#5a3420" fill-opacity="0.36"/><circle cx="481.0" cy="348.9" r="0.51" fill="#5a3420" fill-opacity="0.52"/><circle cx="420.0" cy="350.1" r="0.49" fill="#5a3420" fill-opacity="0.64"/><circle cx="472.4" cy="408.6" r="0.75" fill="#5a3420" fill-opacity="0.51"/><circle cx="430.8" cy="344.9" r="0.59" fill="#5a3420" fill-opacity="0.45"/><circle cx="458.5" cy="368.6" r="0.53" fill="#5a3420" fill-opacity="0.53"/><circle cx="494.6" cy="396.6" r="0.69" fill="#5a3420" fill-opacity="0.46"/><circle cx="396.5" cy="410.7" r="0.57" fill="#5a3420" fill-opacity="0.47"/><circle cx="510.0" cy="319.6" r="0.40" fill="#5a3420" fill-opacity="0.64"/><circle cx="494.9" cy="384.5" r="0.41" fill="#5a3420" fill-opacity="0.54"/><circle cx="361.1" cy="373.5" r="0.55" fill="#5a3420" fill-opacity="0.37"/><circle cx="405.9" cy="328.5" r="0.79" fill="#5a3420" fill-opacity="0.50"/><circle cx="347.0" cy="367.2" r="0.75" fill="#5a3420" fill-opacity="0.70"/><circle cx="381.1" cy="340.5" r="0.41" fill="#5a3420" fill-opacity="0.33"/><circle cx="350.7" cy="382.6" r="0.78" fill="#5a3420" fill-opacity="0.31"/><circle cx="446.7" cy="362.9" r="0.42" fill="#5a3420" fill-opacity="0.41"/><circle cx="415.0" cy="341.2" r="0.62" fill="#5a3420" fill-opacity="0.33"/><circle cx="480.0" cy="327.1" r="0.64" fill="#5a3420" fill-opacity="0.50"/><circle cx="495.2" cy="413.2" r="0.64" fill="#5a3420" fill-opacity="0.61"/><circle cx="489.8" cy="372.6" r="0.62" fill="#5a3420" fill-opacity="0.47"/><circle cx="488.2" cy="394.6" r="0.75" fill="#5a3420" fill-opacity="0.34"/><circle cx="375.0" cy="373.0" r="0.69" fill="#5a3420" fill-opacity="0.50"/></g>
</g>
<rect x="349.9" y="405.1" width="23.6" height="7.1" fill="#fff" stroke="#333" stroke-width="0.9"/>
<text x="361.7" y="410.9" font-size="5.9" text-anchor="middle" fill="#333" style="stroke-width:0.05px">100 µm</text>
<text x="432.6" y="168.8" font-size="9.2" text-anchor="middle" fill="#2b2b2b">Hep3B (60% FGF19 IHC<tspan font-size="5.2" dy="-3.3">+</tspan><tspan dy="3.3">; AMP</tspan><tspan font-size="5.2" dy="-3.3">+</tspan><tspan dy="3.3">)</tspan></text>
<text x="432.6" y="302.7" font-size="9.2" text-anchor="middle" fill="#2b2b2b">LIX-066 (5% FGF19 IHC<tspan font-size="5.2" dy="-3.3">+</tspan><tspan dy="3.3">; AMP</tspan><tspan font-size="5.2" dy="-3.3">−</tspan><tspan dy="3.3">)</tspan></text>
</svg>
</body></html>
